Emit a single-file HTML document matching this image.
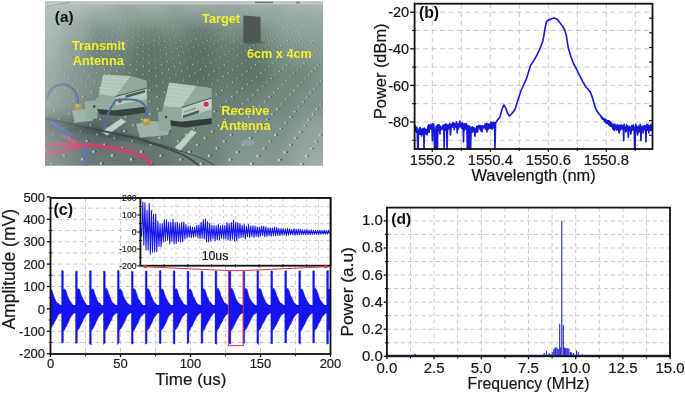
<!DOCTYPE html>
<html><head><meta charset="utf-8"><title>Figure</title>
<style>html,body{margin:0;padding:0;background:#fff;overflow:hidden}svg{display:block}</style>
</head><body>
<svg width="685" height="393" viewBox="0 0 685 393" font-family='"Liberation Sans", Arial, sans-serif'>
<defs>
<filter id="blur1" x="-20%" y="-20%" width="140%" height="140%"><feGaussianBlur stdDeviation="1"/></filter>
<filter id="blur3" x="-50%" y="-50%" width="200%" height="200%"><feGaussianBlur stdDeviation="6"/></filter>
<filter id="blur05"><feGaussianBlur stdDeviation="0.6"/></filter>
<clipPath id="photoclip"><rect x="45" y="1.5" width="278" height="164"/></clipPath>
</defs>
<rect width="685" height="393" fill="#fff"/>
<defs>
<filter id="pblur" x="-5%" y="-5%" width="110%" height="110%"><feGaussianBlur stdDeviation="4"/></filter>
</defs>
<g clip-path="url(#photoclip)">
<rect x="45" y="1.6" width="277.8" height="164.0" fill="#5f756a"/>
<g filter="url(#pblur)">
<rect x="38" y="-6" width="8" height="8" fill="#b4c0bb"/>
<rect x="46" y="-6" width="8" height="8" fill="#b4c0bb"/>
<rect x="54" y="-6" width="8" height="8" fill="#b0bdb7"/>
<rect x="62" y="-6" width="8" height="8" fill="#adbab4"/>
<rect x="70" y="-6" width="8" height="8" fill="#adbab4"/>
<rect x="78" y="-6" width="8" height="8" fill="#abb8b2"/>
<rect x="86" y="-6" width="8" height="8" fill="#a7b5af"/>
<rect x="94" y="-6" width="8" height="8" fill="#a7b5af"/>
<rect x="102" y="-6" width="8" height="8" fill="#a6b4ae"/>
<rect x="110" y="-6" width="8" height="8" fill="#a1b0a9"/>
<rect x="118" y="-6" width="8" height="8" fill="#9baba4"/>
<rect x="126" y="-6" width="8" height="8" fill="#9aaaa3"/>
<rect x="134" y="-6" width="8" height="8" fill="#9dada6"/>
<rect x="142" y="-6" width="8" height="8" fill="#a1b0a9"/>
<rect x="150" y="-6" width="8" height="8" fill="#a0b0a9"/>
<rect x="158" y="-6" width="8" height="8" fill="#9caca5"/>
<rect x="166" y="-6" width="8" height="8" fill="#96a79f"/>
<rect x="174" y="-6" width="8" height="8" fill="#94a59d"/>
<rect x="182" y="-6" width="8" height="8" fill="#98a8a0"/>
<rect x="190" y="-6" width="8" height="8" fill="#9caca5"/>
<rect x="198" y="-6" width="8" height="8" fill="#9dada6"/>
<rect x="206" y="-6" width="8" height="8" fill="#9aaaa2"/>
<rect x="214" y="-6" width="8" height="8" fill="#95a69e"/>
<rect x="222" y="-6" width="8" height="8" fill="#95a69e"/>
<rect x="230" y="-6" width="8" height="8" fill="#96a79f"/>
<rect x="238" y="-6" width="8" height="8" fill="#98a9a1"/>
<rect x="246" y="-6" width="8" height="8" fill="#9dada6"/>
<rect x="254" y="-6" width="8" height="8" fill="#9eafa7"/>
<rect x="262" y="-6" width="8" height="8" fill="#9cada5"/>
<rect x="270" y="-6" width="8" height="8" fill="#9aaba4"/>
<rect x="278" y="-6" width="8" height="8" fill="#9dada6"/>
<rect x="286" y="-6" width="8" height="8" fill="#a1b1ab"/>
<rect x="294" y="-6" width="8" height="8" fill="#a4b3ad"/>
<rect x="302" y="-6" width="8" height="8" fill="#a4b3ad"/>
<rect x="310" y="-6" width="8" height="8" fill="#a5b4ad"/>
<rect x="318" y="-6" width="8" height="8" fill="#a6b5ae"/>
<rect x="326" y="-6" width="8" height="8" fill="#a4b3ad"/>
<rect x="38" y="2" width="8" height="8" fill="#b6c2bd"/>
<rect x="46" y="2" width="8" height="8" fill="#b6c2bd"/>
<rect x="54" y="2" width="8" height="8" fill="#b2bfb9"/>
<rect x="62" y="2" width="8" height="8" fill="#aebbb5"/>
<rect x="70" y="2" width="8" height="8" fill="#afbcb6"/>
<rect x="78" y="2" width="8" height="8" fill="#aebbb5"/>
<rect x="86" y="2" width="8" height="8" fill="#a7b6af"/>
<rect x="94" y="2" width="8" height="8" fill="#aab8b2"/>
<rect x="102" y="2" width="8" height="8" fill="#a9b7b1"/>
<rect x="110" y="2" width="8" height="8" fill="#a1b1aa"/>
<rect x="118" y="2" width="8" height="8" fill="#9aaaa3"/>
<rect x="126" y="2" width="8" height="8" fill="#98a9a1"/>
<rect x="134" y="2" width="8" height="8" fill="#9eaea6"/>
<rect x="142" y="2" width="8" height="8" fill="#a4b4ac"/>
<rect x="150" y="2" width="8" height="8" fill="#a4b3ac"/>
<rect x="158" y="2" width="8" height="8" fill="#9dada6"/>
<rect x="166" y="2" width="8" height="8" fill="#95a69e"/>
<rect x="174" y="2" width="8" height="8" fill="#92a39b"/>
<rect x="182" y="2" width="8" height="8" fill="#98a8a0"/>
<rect x="190" y="2" width="8" height="8" fill="#a0afa8"/>
<rect x="198" y="2" width="8" height="8" fill="#a2b1aa"/>
<rect x="206" y="2" width="8" height="8" fill="#9caca4"/>
<rect x="214" y="2" width="8" height="8" fill="#95a69e"/>
<rect x="222" y="2" width="8" height="8" fill="#96a79f"/>
<rect x="230" y="2" width="8" height="8" fill="#96a79f"/>
<rect x="238" y="2" width="8" height="8" fill="#97a8a0"/>
<rect x="246" y="2" width="8" height="8" fill="#a1b1aa"/>
<rect x="254" y="2" width="8" height="8" fill="#a2b2ab"/>
<rect x="262" y="2" width="8" height="8" fill="#9eaea7"/>
<rect x="270" y="2" width="8" height="8" fill="#9aaba3"/>
<rect x="278" y="2" width="8" height="8" fill="#9dada6"/>
<rect x="286" y="2" width="8" height="8" fill="#a3b3ac"/>
<rect x="294" y="2" width="8" height="8" fill="#a7b6b0"/>
<rect x="302" y="2" width="8" height="8" fill="#a6b5af"/>
<rect x="310" y="2" width="8" height="8" fill="#a7b5af"/>
<rect x="318" y="2" width="8" height="8" fill="#a9b7b1"/>
<rect x="326" y="2" width="8" height="8" fill="#a6b5ae"/>
<rect x="38" y="10" width="8" height="8" fill="#b3bfba"/>
<rect x="46" y="10" width="8" height="8" fill="#b3bfba"/>
<rect x="54" y="10" width="8" height="8" fill="#adbbb5"/>
<rect x="62" y="10" width="8" height="8" fill="#aab7b1"/>
<rect x="70" y="10" width="8" height="8" fill="#abb9b3"/>
<rect x="78" y="10" width="8" height="8" fill="#a6b4ae"/>
<rect x="86" y="10" width="8" height="8" fill="#9dada6"/>
<rect x="94" y="10" width="8" height="8" fill="#99a9a1"/>
<rect x="102" y="10" width="8" height="8" fill="#9aaba3"/>
<rect x="110" y="10" width="8" height="8" fill="#9aaaa2"/>
<rect x="118" y="10" width="8" height="8" fill="#95a59e"/>
<rect x="126" y="10" width="8" height="8" fill="#92a39b"/>
<rect x="134" y="10" width="8" height="8" fill="#93a59d"/>
<rect x="142" y="10" width="8" height="8" fill="#92a49b"/>
<rect x="150" y="10" width="8" height="8" fill="#92a49b"/>
<rect x="158" y="10" width="8" height="8" fill="#93a49c"/>
<rect x="166" y="10" width="8" height="8" fill="#8ea097"/>
<rect x="174" y="10" width="8" height="8" fill="#8b9d95"/>
<rect x="182" y="10" width="8" height="8" fill="#8d9f96"/>
<rect x="190" y="10" width="8" height="8" fill="#8c9f96"/>
<rect x="198" y="10" width="8" height="8" fill="#8a9d94"/>
<rect x="206" y="10" width="8" height="8" fill="#8ea097"/>
<rect x="214" y="10" width="8" height="8" fill="#8fa098"/>
<rect x="222" y="10" width="8" height="8" fill="#93a49c"/>
<rect x="230" y="10" width="8" height="8" fill="#94a59d"/>
<rect x="238" y="10" width="8" height="8" fill="#91a39b"/>
<rect x="246" y="10" width="8" height="8" fill="#90a29a"/>
<rect x="254" y="10" width="8" height="8" fill="#96a7a0"/>
<rect x="262" y="10" width="8" height="8" fill="#96a8a0"/>
<rect x="270" y="10" width="8" height="8" fill="#95a79f"/>
<rect x="278" y="10" width="8" height="8" fill="#98aaa2"/>
<rect x="286" y="10" width="8" height="8" fill="#9baca5"/>
<rect x="294" y="10" width="8" height="8" fill="#99aba3"/>
<rect x="302" y="10" width="8" height="8" fill="#9baca5"/>
<rect x="310" y="10" width="8" height="8" fill="#9dada6"/>
<rect x="318" y="10" width="8" height="8" fill="#9baca4"/>
<rect x="326" y="10" width="8" height="8" fill="#9daea6"/>
<rect x="38" y="18" width="8" height="8" fill="#a8b6b0"/>
<rect x="46" y="18" width="8" height="8" fill="#a8b6b0"/>
<rect x="54" y="18" width="8" height="8" fill="#a3b2ac"/>
<rect x="62" y="18" width="8" height="8" fill="#9baba4"/>
<rect x="70" y="18" width="8" height="8" fill="#97a8a1"/>
<rect x="78" y="18" width="8" height="8" fill="#96a69f"/>
<rect x="86" y="18" width="8" height="8" fill="#92a39c"/>
<rect x="94" y="18" width="8" height="8" fill="#93a49c"/>
<rect x="102" y="18" width="8" height="8" fill="#91a39b"/>
<rect x="110" y="18" width="8" height="8" fill="#8fa199"/>
<rect x="118" y="18" width="8" height="8" fill="#8c9e96"/>
<rect x="126" y="18" width="8" height="8" fill="#889b92"/>
<rect x="134" y="18" width="8" height="8" fill="#869990"/>
<rect x="142" y="18" width="8" height="8" fill="#889c93"/>
<rect x="150" y="18" width="8" height="8" fill="#889c92"/>
<rect x="158" y="18" width="8" height="8" fill="#85998f"/>
<rect x="166" y="18" width="8" height="8" fill="#84978e"/>
<rect x="174" y="18" width="8" height="8" fill="#81948b"/>
<rect x="182" y="18" width="8" height="8" fill="#7f9289"/>
<rect x="190" y="18" width="8" height="8" fill="#80938a"/>
<rect x="198" y="18" width="8" height="8" fill="#82958c"/>
<rect x="206" y="18" width="8" height="8" fill="#7f9289"/>
<rect x="214" y="18" width="8" height="8" fill="#83958c"/>
<rect x="222" y="18" width="8" height="8" fill="#879a91"/>
<rect x="230" y="18" width="8" height="8" fill="#889b92"/>
<rect x="238" y="18" width="8" height="8" fill="#879a92"/>
<rect x="246" y="18" width="8" height="8" fill="#8a9d94"/>
<rect x="254" y="18" width="8" height="8" fill="#889b92"/>
<rect x="262" y="18" width="8" height="8" fill="#8a9d94"/>
<rect x="270" y="18" width="8" height="8" fill="#8ea198"/>
<rect x="278" y="18" width="8" height="8" fill="#93a59d"/>
<rect x="286" y="18" width="8" height="8" fill="#95a7a0"/>
<rect x="294" y="18" width="8" height="8" fill="#96a9a1"/>
<rect x="302" y="18" width="8" height="8" fill="#96a8a0"/>
<rect x="310" y="18" width="8" height="8" fill="#97a9a1"/>
<rect x="318" y="18" width="8" height="8" fill="#98aaa2"/>
<rect x="326" y="18" width="8" height="8" fill="#98a9a1"/>
<rect x="38" y="26" width="8" height="8" fill="#a8b6b0"/>
<rect x="46" y="26" width="8" height="8" fill="#a8b6b0"/>
<rect x="54" y="26" width="8" height="8" fill="#a2b1ab"/>
<rect x="62" y="26" width="8" height="8" fill="#96a69f"/>
<rect x="70" y="26" width="8" height="8" fill="#94a59e"/>
<rect x="78" y="26" width="8" height="8" fill="#93a49d"/>
<rect x="86" y="26" width="8" height="8" fill="#869890"/>
<rect x="94" y="26" width="8" height="8" fill="#7e9189"/>
<rect x="102" y="26" width="8" height="8" fill="#7f928a"/>
<rect x="110" y="26" width="8" height="8" fill="#84968e"/>
<rect x="118" y="26" width="8" height="8" fill="#84978e"/>
<rect x="126" y="26" width="8" height="8" fill="#7f9289"/>
<rect x="134" y="26" width="8" height="8" fill="#768a81"/>
<rect x="142" y="26" width="8" height="8" fill="#6f847a"/>
<rect x="150" y="26" width="8" height="8" fill="#6f847a"/>
<rect x="158" y="26" width="8" height="8" fill="#758a80"/>
<rect x="166" y="26" width="8" height="8" fill="#798d83"/>
<rect x="174" y="26" width="8" height="8" fill="#778b81"/>
<rect x="182" y="26" width="8" height="8" fill="#70837a"/>
<rect x="190" y="26" width="8" height="8" fill="#677b71"/>
<rect x="198" y="26" width="8" height="8" fill="#65796f"/>
<rect x="206" y="26" width="8" height="8" fill="#6b7f75"/>
<rect x="214" y="26" width="8" height="8" fill="#768980"/>
<rect x="222" y="26" width="8" height="8" fill="#7c8f86"/>
<rect x="230" y="26" width="8" height="8" fill="#7b8f85"/>
<rect x="238" y="26" width="8" height="8" fill="#758a7f"/>
<rect x="246" y="26" width="8" height="8" fill="#72887d"/>
<rect x="254" y="26" width="8" height="8" fill="#758a80"/>
<rect x="262" y="26" width="8" height="8" fill="#7e9288"/>
<rect x="270" y="26" width="8" height="8" fill="#879a91"/>
<rect x="278" y="26" width="8" height="8" fill="#8da098"/>
<rect x="286" y="26" width="8" height="8" fill="#8fa29a"/>
<rect x="294" y="26" width="8" height="8" fill="#8ea29a"/>
<rect x="302" y="26" width="8" height="8" fill="#8fa29a"/>
<rect x="310" y="26" width="8" height="8" fill="#91a49c"/>
<rect x="318" y="26" width="8" height="8" fill="#91a49c"/>
<rect x="326" y="26" width="8" height="8" fill="#92a49c"/>
<rect x="38" y="34" width="8" height="8" fill="#a4b3ac"/>
<rect x="46" y="34" width="8" height="8" fill="#a4b2ac"/>
<rect x="54" y="34" width="8" height="8" fill="#9caca5"/>
<rect x="62" y="34" width="8" height="8" fill="#94a49d"/>
<rect x="70" y="34" width="8" height="8" fill="#91a29b"/>
<rect x="78" y="34" width="8" height="8" fill="#8e9f98"/>
<rect x="86" y="34" width="8" height="8" fill="#84968f"/>
<rect x="94" y="34" width="8" height="8" fill="#7f928a"/>
<rect x="102" y="34" width="8" height="8" fill="#7e9189"/>
<rect x="110" y="34" width="8" height="8" fill="#7f9189"/>
<rect x="118" y="34" width="8" height="8" fill="#7d9087"/>
<rect x="126" y="34" width="8" height="8" fill="#788b82"/>
<rect x="134" y="34" width="8" height="8" fill="#72867c"/>
<rect x="142" y="34" width="8" height="8" fill="#6f847a"/>
<rect x="150" y="34" width="8" height="8" fill="#6f847a"/>
<rect x="158" y="34" width="8" height="8" fill="#70857b"/>
<rect x="166" y="34" width="8" height="8" fill="#72867c"/>
<rect x="174" y="34" width="8" height="8" fill="#70847a"/>
<rect x="182" y="34" width="8" height="8" fill="#6b7f75"/>
<rect x="190" y="34" width="8" height="8" fill="#677b71"/>
<rect x="198" y="34" width="8" height="8" fill="#677b71"/>
<rect x="206" y="34" width="8" height="8" fill="#697d73"/>
<rect x="214" y="34" width="8" height="8" fill="#6f8379"/>
<rect x="222" y="34" width="8" height="8" fill="#73877d"/>
<rect x="230" y="34" width="8" height="8" fill="#73887e"/>
<rect x="238" y="34" width="8" height="8" fill="#72877d"/>
<rect x="246" y="34" width="8" height="8" fill="#72877c"/>
<rect x="254" y="34" width="8" height="8" fill="#73887d"/>
<rect x="262" y="34" width="8" height="8" fill="#788d82"/>
<rect x="270" y="34" width="8" height="8" fill="#80948b"/>
<rect x="278" y="34" width="8" height="8" fill="#879b92"/>
<rect x="286" y="34" width="8" height="8" fill="#8b9f96"/>
<rect x="294" y="34" width="8" height="8" fill="#8ca098"/>
<rect x="302" y="34" width="8" height="8" fill="#8ca098"/>
<rect x="310" y="34" width="8" height="8" fill="#8ea199"/>
<rect x="318" y="34" width="8" height="8" fill="#8fa29a"/>
<rect x="326" y="34" width="8" height="8" fill="#8fa299"/>
<rect x="38" y="42" width="8" height="8" fill="#9caca6"/>
<rect x="46" y="42" width="8" height="8" fill="#9baba5"/>
<rect x="54" y="42" width="8" height="8" fill="#96a6a0"/>
<rect x="62" y="42" width="8" height="8" fill="#8a9b94"/>
<rect x="70" y="42" width="8" height="8" fill="#859790"/>
<rect x="78" y="42" width="8" height="8" fill="#84968f"/>
<rect x="86" y="42" width="8" height="8" fill="#798c84"/>
<rect x="94" y="42" width="8" height="8" fill="#70847b"/>
<rect x="102" y="42" width="8" height="8" fill="#71847b"/>
<rect x="110" y="42" width="8" height="8" fill="#758880"/>
<rect x="118" y="42" width="8" height="8" fill="#768980"/>
<rect x="126" y="42" width="8" height="8" fill="#70847a"/>
<rect x="134" y="42" width="8" height="8" fill="#667c70"/>
<rect x="142" y="42" width="8" height="8" fill="#60766a"/>
<rect x="150" y="42" width="8" height="8" fill="#60766a"/>
<rect x="158" y="42" width="8" height="8" fill="#657a6f"/>
<rect x="166" y="42" width="8" height="8" fill="#6a7e74"/>
<rect x="174" y="42" width="8" height="8" fill="#697d73"/>
<rect x="182" y="42" width="8" height="8" fill="#63786d"/>
<rect x="190" y="42" width="8" height="8" fill="#5d7367"/>
<rect x="198" y="42" width="8" height="8" fill="#5c7266"/>
<rect x="206" y="42" width="8" height="8" fill="#5f756a"/>
<rect x="214" y="42" width="8" height="8" fill="#677c71"/>
<rect x="222" y="42" width="8" height="8" fill="#6b8075"/>
<rect x="230" y="42" width="8" height="8" fill="#687e73"/>
<rect x="238" y="42" width="8" height="8" fill="#62786c"/>
<rect x="246" y="42" width="8" height="8" fill="#5f7569"/>
<rect x="254" y="42" width="8" height="8" fill="#63796d"/>
<rect x="262" y="42" width="8" height="8" fill="#6d8277"/>
<rect x="270" y="42" width="8" height="8" fill="#798e84"/>
<rect x="278" y="42" width="8" height="8" fill="#80958b"/>
<rect x="286" y="42" width="8" height="8" fill="#81978d"/>
<rect x="294" y="42" width="8" height="8" fill="#80978c"/>
<rect x="302" y="42" width="8" height="8" fill="#82988d"/>
<rect x="310" y="42" width="8" height="8" fill="#859a90"/>
<rect x="318" y="42" width="8" height="8" fill="#869a90"/>
<rect x="326" y="42" width="8" height="8" fill="#879b91"/>
<rect x="38" y="50" width="8" height="8" fill="#9caca6"/>
<rect x="46" y="50" width="8" height="8" fill="#9caca6"/>
<rect x="54" y="50" width="8" height="8" fill="#96a6a0"/>
<rect x="62" y="50" width="8" height="8" fill="#869891"/>
<rect x="70" y="50" width="8" height="8" fill="#84968f"/>
<rect x="78" y="50" width="8" height="8" fill="#83958e"/>
<rect x="86" y="50" width="8" height="8" fill="#74887f"/>
<rect x="94" y="50" width="8" height="8" fill="#6d8178"/>
<rect x="102" y="50" width="8" height="8" fill="#6e8279"/>
<rect x="110" y="50" width="8" height="8" fill="#71857c"/>
<rect x="118" y="50" width="8" height="8" fill="#71857c"/>
<rect x="126" y="50" width="8" height="8" fill="#6a7f75"/>
<rect x="134" y="50" width="8" height="8" fill="#62776c"/>
<rect x="142" y="50" width="8" height="8" fill="#5e7468"/>
<rect x="150" y="50" width="8" height="8" fill="#5e7468"/>
<rect x="158" y="50" width="8" height="8" fill="#61776b"/>
<rect x="166" y="50" width="8" height="8" fill="#657a6f"/>
<rect x="174" y="50" width="8" height="8" fill="#64796e"/>
<rect x="182" y="50" width="8" height="8" fill="#5f7469"/>
<rect x="190" y="50" width="8" height="8" fill="#5b7065"/>
<rect x="198" y="50" width="8" height="8" fill="#5a7064"/>
<rect x="206" y="50" width="8" height="8" fill="#5c7266"/>
<rect x="214" y="50" width="8" height="8" fill="#62786c"/>
<rect x="222" y="50" width="8" height="8" fill="#667b70"/>
<rect x="230" y="50" width="8" height="8" fill="#63796d"/>
<rect x="238" y="50" width="8" height="8" fill="#5e7468"/>
<rect x="246" y="50" width="8" height="8" fill="#5d7367"/>
<rect x="254" y="50" width="8" height="8" fill="#5f7569"/>
<rect x="262" y="50" width="8" height="8" fill="#677d72"/>
<rect x="270" y="50" width="8" height="8" fill="#74897f"/>
<rect x="278" y="50" width="8" height="8" fill="#7c9288"/>
<rect x="286" y="50" width="8" height="8" fill="#7f968b"/>
<rect x="294" y="50" width="8" height="8" fill="#7f968b"/>
<rect x="302" y="50" width="8" height="8" fill="#7f968b"/>
<rect x="310" y="50" width="8" height="8" fill="#84998f"/>
<rect x="318" y="50" width="8" height="8" fill="#85998f"/>
<rect x="326" y="50" width="8" height="8" fill="#85998f"/>
<rect x="38" y="58" width="8" height="8" fill="#95a69f"/>
<rect x="46" y="58" width="8" height="8" fill="#95a59f"/>
<rect x="54" y="58" width="8" height="8" fill="#8f9f99"/>
<rect x="62" y="58" width="8" height="8" fill="#879891"/>
<rect x="70" y="58" width="8" height="8" fill="#83958e"/>
<rect x="78" y="58" width="8" height="8" fill="#81928b"/>
<rect x="86" y="58" width="8" height="8" fill="#798c84"/>
<rect x="94" y="58" width="8" height="8" fill="#72867d"/>
<rect x="102" y="58" width="8" height="8" fill="#71857c"/>
<rect x="110" y="58" width="8" height="8" fill="#72867d"/>
<rect x="118" y="58" width="8" height="8" fill="#70837a"/>
<rect x="126" y="58" width="8" height="8" fill="#697e73"/>
<rect x="134" y="58" width="8" height="8" fill="#63786d"/>
<rect x="142" y="58" width="8" height="8" fill="#60766a"/>
<rect x="150" y="58" width="8" height="8" fill="#5f756a"/>
<rect x="158" y="58" width="8" height="8" fill="#61776b"/>
<rect x="166" y="58" width="8" height="8" fill="#63796d"/>
<rect x="174" y="58" width="8" height="8" fill="#62786d"/>
<rect x="182" y="58" width="8" height="8" fill="#5f7569"/>
<rect x="190" y="58" width="8" height="8" fill="#5c7367"/>
<rect x="198" y="58" width="8" height="8" fill="#5c7266"/>
<rect x="206" y="58" width="8" height="8" fill="#5d7468"/>
<rect x="214" y="58" width="8" height="8" fill="#61776c"/>
<rect x="222" y="58" width="8" height="8" fill="#647a6e"/>
<rect x="230" y="58" width="8" height="8" fill="#63796d"/>
<rect x="238" y="58" width="8" height="8" fill="#60776b"/>
<rect x="246" y="58" width="8" height="8" fill="#60766a"/>
<rect x="254" y="58" width="8" height="8" fill="#62786c"/>
<rect x="262" y="58" width="8" height="8" fill="#687e72"/>
<rect x="270" y="58" width="8" height="8" fill="#71877c"/>
<rect x="278" y="58" width="8" height="8" fill="#778e83"/>
<rect x="286" y="58" width="8" height="8" fill="#7a9186"/>
<rect x="294" y="58" width="8" height="8" fill="#7b9287"/>
<rect x="302" y="58" width="8" height="8" fill="#7d9388"/>
<rect x="310" y="58" width="8" height="8" fill="#80958b"/>
<rect x="318" y="58" width="8" height="8" fill="#82978c"/>
<rect x="326" y="58" width="8" height="8" fill="#82978d"/>
<rect x="38" y="66" width="8" height="8" fill="#8e9e98"/>
<rect x="46" y="66" width="8" height="8" fill="#8e9e98"/>
<rect x="54" y="66" width="8" height="8" fill="#8a9b94"/>
<rect x="62" y="66" width="8" height="8" fill="#81928b"/>
<rect x="70" y="66" width="8" height="8" fill="#7e8f88"/>
<rect x="78" y="66" width="8" height="8" fill="#7e8f88"/>
<rect x="86" y="66" width="8" height="8" fill="#7d8f87"/>
<rect x="94" y="66" width="8" height="8" fill="#7a8c84"/>
<rect x="102" y="66" width="8" height="8" fill="#768981"/>
<rect x="110" y="66" width="8" height="8" fill="#73867e"/>
<rect x="118" y="66" width="8" height="8" fill="#6e8278"/>
<rect x="126" y="66" width="8" height="8" fill="#657b70"/>
<rect x="134" y="66" width="8" height="8" fill="#5f7569"/>
<rect x="142" y="66" width="8" height="8" fill="#5c7367"/>
<rect x="150" y="66" width="8" height="8" fill="#5c7267"/>
<rect x="158" y="66" width="8" height="8" fill="#5e7468"/>
<rect x="166" y="66" width="8" height="8" fill="#61776b"/>
<rect x="174" y="66" width="8" height="8" fill="#60766b"/>
<rect x="182" y="66" width="8" height="8" fill="#5c7367"/>
<rect x="190" y="66" width="8" height="8" fill="#597165"/>
<rect x="198" y="66" width="8" height="8" fill="#587064"/>
<rect x="206" y="66" width="8" height="8" fill="#5a7266"/>
<rect x="214" y="66" width="8" height="8" fill="#5f766a"/>
<rect x="222" y="66" width="8" height="8" fill="#62796d"/>
<rect x="230" y="66" width="8" height="8" fill="#61776c"/>
<rect x="238" y="66" width="8" height="8" fill="#5e7468"/>
<rect x="246" y="66" width="8" height="8" fill="#5c7367"/>
<rect x="254" y="66" width="8" height="8" fill="#5e7569"/>
<rect x="262" y="66" width="8" height="8" fill="#657b70"/>
<rect x="270" y="66" width="8" height="8" fill="#6e8479"/>
<rect x="278" y="66" width="8" height="8" fill="#72897e"/>
<rect x="286" y="66" width="8" height="8" fill="#71887d"/>
<rect x="294" y="66" width="8" height="8" fill="#6f877b"/>
<rect x="302" y="66" width="8" height="8" fill="#71897d"/>
<rect x="310" y="66" width="8" height="8" fill="#7b9187"/>
<rect x="318" y="66" width="8" height="8" fill="#7d9389"/>
<rect x="326" y="66" width="8" height="8" fill="#7d9389"/>
<rect x="38" y="74" width="8" height="8" fill="#8e9e98"/>
<rect x="46" y="74" width="8" height="8" fill="#8e9e98"/>
<rect x="54" y="74" width="8" height="8" fill="#8a9a94"/>
<rect x="62" y="74" width="8" height="8" fill="#80918a"/>
<rect x="70" y="74" width="8" height="8" fill="#7e8f88"/>
<rect x="78" y="74" width="8" height="8" fill="#7e8f88"/>
<rect x="86" y="74" width="8" height="8" fill="#7e8f88"/>
<rect x="94" y="74" width="8" height="8" fill="#7b8d85"/>
<rect x="102" y="74" width="8" height="8" fill="#788a82"/>
<rect x="110" y="74" width="8" height="8" fill="#73867d"/>
<rect x="118" y="74" width="8" height="8" fill="#6c8077"/>
<rect x="126" y="74" width="8" height="8" fill="#64796f"/>
<rect x="134" y="74" width="8" height="8" fill="#5d7468"/>
<rect x="142" y="74" width="8" height="8" fill="#5b7266"/>
<rect x="150" y="74" width="8" height="8" fill="#5b7266"/>
<rect x="158" y="74" width="8" height="8" fill="#5d7368"/>
<rect x="166" y="74" width="8" height="8" fill="#60766b"/>
<rect x="174" y="74" width="8" height="8" fill="#5f766b"/>
<rect x="182" y="74" width="8" height="8" fill="#5b7367"/>
<rect x="190" y="74" width="8" height="8" fill="#587064"/>
<rect x="198" y="74" width="8" height="8" fill="#587064"/>
<rect x="206" y="74" width="8" height="8" fill="#5a7166"/>
<rect x="214" y="74" width="8" height="8" fill="#5f766a"/>
<rect x="222" y="74" width="8" height="8" fill="#63796e"/>
<rect x="230" y="74" width="8" height="8" fill="#61776c"/>
<rect x="238" y="74" width="8" height="8" fill="#5d7468"/>
<rect x="246" y="74" width="8" height="8" fill="#5c7367"/>
<rect x="254" y="74" width="8" height="8" fill="#5d7468"/>
<rect x="262" y="74" width="8" height="8" fill="#647a6f"/>
<rect x="270" y="74" width="8" height="8" fill="#6d8378"/>
<rect x="278" y="74" width="8" height="8" fill="#71887c"/>
<rect x="286" y="74" width="8" height="8" fill="#70877b"/>
<rect x="294" y="74" width="8" height="8" fill="#6e867a"/>
<rect x="302" y="74" width="8" height="8" fill="#70877c"/>
<rect x="310" y="74" width="8" height="8" fill="#7b9187"/>
<rect x="318" y="74" width="8" height="8" fill="#7d9389"/>
<rect x="326" y="74" width="8" height="8" fill="#7d9389"/>
<rect x="38" y="82" width="8" height="8" fill="#899993"/>
<rect x="46" y="82" width="8" height="8" fill="#899992"/>
<rect x="54" y="82" width="8" height="8" fill="#85958e"/>
<rect x="62" y="82" width="8" height="8" fill="#80918a"/>
<rect x="70" y="82" width="8" height="8" fill="#7e8f88"/>
<rect x="78" y="82" width="8" height="8" fill="#7e8e88"/>
<rect x="86" y="82" width="8" height="8" fill="#7c8d86"/>
<rect x="94" y="82" width="8" height="8" fill="#7a8b84"/>
<rect x="102" y="82" width="8" height="8" fill="#778881"/>
<rect x="110" y="82" width="8" height="8" fill="#72857d"/>
<rect x="118" y="82" width="8" height="8" fill="#6d8077"/>
<rect x="126" y="82" width="8" height="8" fill="#667b71"/>
<rect x="134" y="82" width="8" height="8" fill="#61776c"/>
<rect x="142" y="82" width="8" height="8" fill="#5e7469"/>
<rect x="150" y="82" width="8" height="8" fill="#5e7469"/>
<rect x="158" y="82" width="8" height="8" fill="#5f766a"/>
<rect x="166" y="82" width="8" height="8" fill="#62786d"/>
<rect x="174" y="82" width="8" height="8" fill="#61776c"/>
<rect x="182" y="82" width="8" height="8" fill="#5e756a"/>
<rect x="190" y="82" width="8" height="8" fill="#5c7368"/>
<rect x="198" y="82" width="8" height="8" fill="#5c7367"/>
<rect x="206" y="82" width="8" height="8" fill="#5f766a"/>
<rect x="214" y="82" width="8" height="8" fill="#647a6f"/>
<rect x="222" y="82" width="8" height="8" fill="#677d72"/>
<rect x="230" y="82" width="8" height="8" fill="#667c71"/>
<rect x="238" y="82" width="8" height="8" fill="#63796e"/>
<rect x="246" y="82" width="8" height="8" fill="#61776c"/>
<rect x="254" y="82" width="8" height="8" fill="#647a6f"/>
<rect x="262" y="82" width="8" height="8" fill="#6b8076"/>
<rect x="270" y="82" width="8" height="8" fill="#70867b"/>
<rect x="278" y="82" width="8" height="8" fill="#72887e"/>
<rect x="286" y="82" width="8" height="8" fill="#72897e"/>
<rect x="294" y="82" width="8" height="8" fill="#72897e"/>
<rect x="302" y="82" width="8" height="8" fill="#758c81"/>
<rect x="310" y="82" width="8" height="8" fill="#7b9086"/>
<rect x="318" y="82" width="8" height="8" fill="#7d9288"/>
<rect x="326" y="82" width="8" height="8" fill="#7e9289"/>
<rect x="38" y="90" width="8" height="8" fill="#86968f"/>
<rect x="46" y="90" width="8" height="8" fill="#86968e"/>
<rect x="54" y="90" width="8" height="8" fill="#81928b"/>
<rect x="62" y="90" width="8" height="8" fill="#7d8d87"/>
<rect x="70" y="90" width="8" height="8" fill="#7c8d86"/>
<rect x="78" y="90" width="8" height="8" fill="#7c8c86"/>
<rect x="86" y="90" width="8" height="8" fill="#7a8a84"/>
<rect x="94" y="90" width="8" height="8" fill="#778881"/>
<rect x="102" y="90" width="8" height="8" fill="#74857f"/>
<rect x="110" y="90" width="8" height="8" fill="#71827b"/>
<rect x="118" y="90" width="8" height="8" fill="#6e8078"/>
<rect x="126" y="90" width="8" height="8" fill="#6a7d74"/>
<rect x="134" y="90" width="8" height="8" fill="#667b71"/>
<rect x="142" y="90" width="8" height="8" fill="#64796f"/>
<rect x="150" y="90" width="8" height="8" fill="#64796e"/>
<rect x="158" y="90" width="8" height="8" fill="#64796f"/>
<rect x="166" y="90" width="8" height="8" fill="#657a70"/>
<rect x="174" y="90" width="8" height="8" fill="#657a70"/>
<rect x="182" y="90" width="8" height="8" fill="#647a6f"/>
<rect x="190" y="90" width="8" height="8" fill="#63796e"/>
<rect x="198" y="90" width="8" height="8" fill="#647a6f"/>
<rect x="206" y="90" width="8" height="8" fill="#677c72"/>
<rect x="214" y="90" width="8" height="8" fill="#697e74"/>
<rect x="222" y="90" width="8" height="8" fill="#6a7f75"/>
<rect x="230" y="90" width="8" height="8" fill="#6a7f75"/>
<rect x="238" y="90" width="8" height="8" fill="#6a7f75"/>
<rect x="246" y="90" width="8" height="8" fill="#6a7f75"/>
<rect x="254" y="90" width="8" height="8" fill="#6d8278"/>
<rect x="262" y="90" width="8" height="8" fill="#71867c"/>
<rect x="270" y="90" width="8" height="8" fill="#73887e"/>
<rect x="278" y="90" width="8" height="8" fill="#73887e"/>
<rect x="286" y="90" width="8" height="8" fill="#74897f"/>
<rect x="294" y="90" width="8" height="8" fill="#778c82"/>
<rect x="302" y="90" width="8" height="8" fill="#7c8f87"/>
<rect x="310" y="90" width="8" height="8" fill="#7f928a"/>
<rect x="318" y="90" width="8" height="8" fill="#80928b"/>
<rect x="326" y="90" width="8" height="8" fill="#80928b"/>
<rect x="38" y="98" width="8" height="8" fill="#87978f"/>
<rect x="46" y="98" width="8" height="8" fill="#87978f"/>
<rect x="54" y="98" width="8" height="8" fill="#81918a"/>
<rect x="62" y="98" width="8" height="8" fill="#7c8d86"/>
<rect x="70" y="98" width="8" height="8" fill="#7c8d86"/>
<rect x="78" y="98" width="8" height="8" fill="#7a8b84"/>
<rect x="86" y="98" width="8" height="8" fill="#768680"/>
<rect x="94" y="98" width="8" height="8" fill="#72827d"/>
<rect x="102" y="98" width="8" height="8" fill="#707f7a"/>
<rect x="110" y="98" width="8" height="8" fill="#6e7e78"/>
<rect x="118" y="98" width="8" height="8" fill="#6c7d77"/>
<rect x="126" y="98" width="8" height="8" fill="#6b7d75"/>
<rect x="134" y="98" width="8" height="8" fill="#6a7c74"/>
<rect x="142" y="98" width="8" height="8" fill="#697c73"/>
<rect x="150" y="98" width="8" height="8" fill="#687c73"/>
<rect x="158" y="98" width="8" height="8" fill="#687c73"/>
<rect x="166" y="98" width="8" height="8" fill="#697d73"/>
<rect x="174" y="98" width="8" height="8" fill="#697d74"/>
<rect x="182" y="98" width="8" height="8" fill="#697d74"/>
<rect x="190" y="98" width="8" height="8" fill="#697e74"/>
<rect x="198" y="98" width="8" height="8" fill="#6a7e74"/>
<rect x="206" y="98" width="8" height="8" fill="#6a7f75"/>
<rect x="214" y="98" width="8" height="8" fill="#6a7f75"/>
<rect x="222" y="98" width="8" height="8" fill="#6a7f75"/>
<rect x="230" y="98" width="8" height="8" fill="#6a7f75"/>
<rect x="238" y="98" width="8" height="8" fill="#6b8076"/>
<rect x="246" y="98" width="8" height="8" fill="#6d8278"/>
<rect x="254" y="98" width="8" height="8" fill="#71867c"/>
<rect x="262" y="98" width="8" height="8" fill="#73887e"/>
<rect x="270" y="98" width="8" height="8" fill="#73887e"/>
<rect x="278" y="98" width="8" height="8" fill="#73887e"/>
<rect x="286" y="98" width="8" height="8" fill="#74897f"/>
<rect x="294" y="98" width="8" height="8" fill="#788c83"/>
<rect x="302" y="98" width="8" height="8" fill="#7e9189"/>
<rect x="310" y="98" width="8" height="8" fill="#80928b"/>
<rect x="318" y="98" width="8" height="8" fill="#80928b"/>
<rect x="326" y="98" width="8" height="8" fill="#80928b"/>
<rect x="38" y="106" width="8" height="8" fill="#7b8a83"/>
<rect x="46" y="106" width="8" height="8" fill="#7b8a83"/>
<rect x="54" y="106" width="8" height="8" fill="#788781"/>
<rect x="62" y="106" width="8" height="8" fill="#778680"/>
<rect x="70" y="106" width="8" height="8" fill="#758580"/>
<rect x="78" y="106" width="8" height="8" fill="#71807b"/>
<rect x="86" y="106" width="8" height="8" fill="#6c7b77"/>
<rect x="94" y="106" width="8" height="8" fill="#697874"/>
<rect x="102" y="106" width="8" height="8" fill="#687773"/>
<rect x="110" y="106" width="8" height="8" fill="#687773"/>
<rect x="118" y="106" width="8" height="8" fill="#697974"/>
<rect x="126" y="106" width="8" height="8" fill="#6a7a74"/>
<rect x="134" y="106" width="8" height="8" fill="#6a7b74"/>
<rect x="142" y="106" width="8" height="8" fill="#6a7c74"/>
<rect x="150" y="106" width="8" height="8" fill="#6a7c74"/>
<rect x="158" y="106" width="8" height="8" fill="#6a7d74"/>
<rect x="166" y="106" width="8" height="8" fill="#6b7e75"/>
<rect x="174" y="106" width="8" height="8" fill="#6b7f76"/>
<rect x="182" y="106" width="8" height="8" fill="#6c8076"/>
<rect x="190" y="106" width="8" height="8" fill="#6c8077"/>
<rect x="198" y="106" width="8" height="8" fill="#6d8177"/>
<rect x="206" y="106" width="8" height="8" fill="#6c8177"/>
<rect x="214" y="106" width="8" height="8" fill="#6c8077"/>
<rect x="222" y="106" width="8" height="8" fill="#6b8076"/>
<rect x="230" y="106" width="8" height="8" fill="#6c8177"/>
<rect x="238" y="106" width="8" height="8" fill="#6f8379"/>
<rect x="246" y="106" width="8" height="8" fill="#72867d"/>
<rect x="254" y="106" width="8" height="8" fill="#74887f"/>
<rect x="262" y="106" width="8" height="8" fill="#75897f"/>
<rect x="270" y="106" width="8" height="8" fill="#74897f"/>
<rect x="278" y="106" width="8" height="8" fill="#74897f"/>
<rect x="286" y="106" width="8" height="8" fill="#768a81"/>
<rect x="294" y="106" width="8" height="8" fill="#7b8e86"/>
<rect x="302" y="106" width="8" height="8" fill="#80928a"/>
<rect x="310" y="106" width="8" height="8" fill="#81938c"/>
<rect x="318" y="106" width="8" height="8" fill="#81938c"/>
<rect x="326" y="106" width="8" height="8" fill="#82948d"/>
<rect x="38" y="114" width="8" height="8" fill="#5c6763"/>
<rect x="46" y="114" width="8" height="8" fill="#5c6663"/>
<rect x="54" y="114" width="8" height="8" fill="#606c69"/>
<rect x="62" y="114" width="8" height="8" fill="#606c6a"/>
<rect x="70" y="114" width="8" height="8" fill="#5c6867"/>
<rect x="78" y="114" width="8" height="8" fill="#5c6968"/>
<rect x="86" y="114" width="8" height="8" fill="#5f6b6a"/>
<rect x="94" y="114" width="8" height="8" fill="#5f6c6b"/>
<rect x="102" y="114" width="8" height="8" fill="#606d6b"/>
<rect x="110" y="114" width="8" height="8" fill="#62706d"/>
<rect x="118" y="114" width="8" height="8" fill="#657470"/>
<rect x="126" y="114" width="8" height="8" fill="#687873"/>
<rect x="134" y="114" width="8" height="8" fill="#697a73"/>
<rect x="142" y="114" width="8" height="8" fill="#697b73"/>
<rect x="150" y="114" width="8" height="8" fill="#697b73"/>
<rect x="158" y="114" width="8" height="8" fill="#6a7c74"/>
<rect x="166" y="114" width="8" height="8" fill="#6b7e75"/>
<rect x="174" y="114" width="8" height="8" fill="#6c8077"/>
<rect x="182" y="114" width="8" height="8" fill="#6d8178"/>
<rect x="190" y="114" width="8" height="8" fill="#6e8278"/>
<rect x="198" y="114" width="8" height="8" fill="#6e8278"/>
<rect x="206" y="114" width="8" height="8" fill="#6e8279"/>
<rect x="214" y="114" width="8" height="8" fill="#6f837a"/>
<rect x="222" y="114" width="8" height="8" fill="#71857b"/>
<rect x="230" y="114" width="8" height="8" fill="#74887f"/>
<rect x="238" y="114" width="8" height="8" fill="#798b84"/>
<rect x="246" y="114" width="8" height="8" fill="#7b8d86"/>
<rect x="254" y="114" width="8" height="8" fill="#7b8d86"/>
<rect x="262" y="114" width="8" height="8" fill="#798c84"/>
<rect x="270" y="114" width="8" height="8" fill="#788c83"/>
<rect x="278" y="114" width="8" height="8" fill="#798c84"/>
<rect x="286" y="114" width="8" height="8" fill="#7c8f86"/>
<rect x="294" y="114" width="8" height="8" fill="#82948c"/>
<rect x="302" y="114" width="8" height="8" fill="#889992"/>
<rect x="310" y="114" width="8" height="8" fill="#8c9c96"/>
<rect x="318" y="114" width="8" height="8" fill="#8d9d97"/>
<rect x="326" y="114" width="8" height="8" fill="#8c9d96"/>
<rect x="38" y="122" width="8" height="8" fill="#58625f"/>
<rect x="46" y="122" width="8" height="8" fill="#58625f"/>
<rect x="54" y="122" width="8" height="8" fill="#5a6462"/>
<rect x="62" y="122" width="8" height="8" fill="#566162"/>
<rect x="70" y="122" width="8" height="8" fill="#545f60"/>
<rect x="78" y="122" width="8" height="8" fill="#556061"/>
<rect x="86" y="122" width="8" height="8" fill="#5a6666"/>
<rect x="94" y="122" width="8" height="8" fill="#5a6666"/>
<rect x="102" y="122" width="8" height="8" fill="#5b6767"/>
<rect x="110" y="122" width="8" height="8" fill="#5e6a69"/>
<rect x="118" y="122" width="8" height="8" fill="#63716e"/>
<rect x="126" y="122" width="8" height="8" fill="#677872"/>
<rect x="134" y="122" width="8" height="8" fill="#697b73"/>
<rect x="142" y="122" width="8" height="8" fill="#697b73"/>
<rect x="150" y="122" width="8" height="8" fill="#697b73"/>
<rect x="158" y="122" width="8" height="8" fill="#697b73"/>
<rect x="166" y="122" width="8" height="8" fill="#6b7d75"/>
<rect x="174" y="122" width="8" height="8" fill="#6d8077"/>
<rect x="182" y="122" width="8" height="8" fill="#6e8278"/>
<rect x="190" y="122" width="8" height="8" fill="#6e8278"/>
<rect x="198" y="122" width="8" height="8" fill="#6e8278"/>
<rect x="206" y="122" width="8" height="8" fill="#6e8278"/>
<rect x="214" y="122" width="8" height="8" fill="#70847a"/>
<rect x="222" y="122" width="8" height="8" fill="#75887f"/>
<rect x="230" y="122" width="8" height="8" fill="#7a8d85"/>
<rect x="238" y="122" width="8" height="8" fill="#7d9088"/>
<rect x="246" y="122" width="8" height="8" fill="#7e9089"/>
<rect x="254" y="122" width="8" height="8" fill="#7e9089"/>
<rect x="262" y="122" width="8" height="8" fill="#7d8f88"/>
<rect x="270" y="122" width="8" height="8" fill="#7c8f87"/>
<rect x="278" y="122" width="8" height="8" fill="#7e9088"/>
<rect x="286" y="122" width="8" height="8" fill="#82948c"/>
<rect x="294" y="122" width="8" height="8" fill="#899a93"/>
<rect x="302" y="122" width="8" height="8" fill="#8f9f99"/>
<rect x="310" y="122" width="8" height="8" fill="#92a29b"/>
<rect x="318" y="122" width="8" height="8" fill="#93a29c"/>
<rect x="326" y="122" width="8" height="8" fill="#92a19b"/>
<rect x="38" y="130" width="8" height="8" fill="#5b6562"/>
<rect x="46" y="130" width="8" height="8" fill="#5a6562"/>
<rect x="54" y="130" width="8" height="8" fill="#5b6664"/>
<rect x="62" y="130" width="8" height="8" fill="#576263"/>
<rect x="70" y="130" width="8" height="8" fill="#556061"/>
<rect x="78" y="130" width="8" height="8" fill="#576262"/>
<rect x="86" y="130" width="8" height="8" fill="#5a6666"/>
<rect x="94" y="130" width="8" height="8" fill="#5a6666"/>
<rect x="102" y="130" width="8" height="8" fill="#5a6666"/>
<rect x="110" y="130" width="8" height="8" fill="#5d6969"/>
<rect x="118" y="130" width="8" height="8" fill="#62706d"/>
<rect x="126" y="130" width="8" height="8" fill="#677771"/>
<rect x="134" y="130" width="8" height="8" fill="#697a73"/>
<rect x="142" y="130" width="8" height="8" fill="#697b73"/>
<rect x="150" y="130" width="8" height="8" fill="#697b73"/>
<rect x="158" y="130" width="8" height="8" fill="#697b73"/>
<rect x="166" y="130" width="8" height="8" fill="#6b7d75"/>
<rect x="174" y="130" width="8" height="8" fill="#6d8077"/>
<rect x="182" y="130" width="8" height="8" fill="#6e8278"/>
<rect x="190" y="130" width="8" height="8" fill="#6e8278"/>
<rect x="198" y="130" width="8" height="8" fill="#6e8278"/>
<rect x="206" y="130" width="8" height="8" fill="#6e8278"/>
<rect x="214" y="130" width="8" height="8" fill="#71847b"/>
<rect x="222" y="130" width="8" height="8" fill="#768981"/>
<rect x="230" y="130" width="8" height="8" fill="#7c8e86"/>
<rect x="238" y="130" width="8" height="8" fill="#7e9089"/>
<rect x="246" y="130" width="8" height="8" fill="#7e9089"/>
<rect x="254" y="130" width="8" height="8" fill="#7e9089"/>
<rect x="262" y="130" width="8" height="8" fill="#7e9089"/>
<rect x="270" y="130" width="8" height="8" fill="#7f9189"/>
<rect x="278" y="130" width="8" height="8" fill="#81938c"/>
<rect x="286" y="130" width="8" height="8" fill="#869790"/>
<rect x="294" y="130" width="8" height="8" fill="#8c9c96"/>
<rect x="302" y="130" width="8" height="8" fill="#91a09a"/>
<rect x="310" y="130" width="8" height="8" fill="#93a29c"/>
<rect x="318" y="130" width="8" height="8" fill="#93a29c"/>
<rect x="326" y="130" width="8" height="8" fill="#93a29c"/>
<rect x="38" y="138" width="8" height="8" fill="#636e6c"/>
<rect x="46" y="138" width="8" height="8" fill="#636d6c"/>
<rect x="54" y="138" width="8" height="8" fill="#626d6b"/>
<rect x="62" y="138" width="8" height="8" fill="#606b6b"/>
<rect x="70" y="138" width="8" height="8" fill="#5f6a6a"/>
<rect x="78" y="138" width="8" height="8" fill="#5f6a6a"/>
<rect x="86" y="138" width="8" height="8" fill="#5f6b6a"/>
<rect x="94" y="138" width="8" height="8" fill="#5e6a69"/>
<rect x="102" y="138" width="8" height="8" fill="#5e6a6a"/>
<rect x="110" y="138" width="8" height="8" fill="#616e6c"/>
<rect x="118" y="138" width="8" height="8" fill="#64726f"/>
<rect x="126" y="138" width="8" height="8" fill="#677671"/>
<rect x="134" y="138" width="8" height="8" fill="#687972"/>
<rect x="142" y="138" width="8" height="8" fill="#687a73"/>
<rect x="150" y="138" width="8" height="8" fill="#697a73"/>
<rect x="158" y="138" width="8" height="8" fill="#697a73"/>
<rect x="166" y="138" width="8" height="8" fill="#6b7c75"/>
<rect x="174" y="138" width="8" height="8" fill="#6d7f77"/>
<rect x="182" y="138" width="8" height="8" fill="#6e8178"/>
<rect x="190" y="138" width="8" height="8" fill="#6e8279"/>
<rect x="198" y="138" width="8" height="8" fill="#6f8279"/>
<rect x="206" y="138" width="8" height="8" fill="#70837a"/>
<rect x="214" y="138" width="8" height="8" fill="#73857d"/>
<rect x="222" y="138" width="8" height="8" fill="#788a82"/>
<rect x="230" y="138" width="8" height="8" fill="#7c8e87"/>
<rect x="238" y="138" width="8" height="8" fill="#7e9089"/>
<rect x="246" y="138" width="8" height="8" fill="#7f918a"/>
<rect x="254" y="138" width="8" height="8" fill="#7f918a"/>
<rect x="262" y="138" width="8" height="8" fill="#80918a"/>
<rect x="270" y="138" width="8" height="8" fill="#81938c"/>
<rect x="278" y="138" width="8" height="8" fill="#84958e"/>
<rect x="286" y="138" width="8" height="8" fill="#899a93"/>
<rect x="294" y="138" width="8" height="8" fill="#8e9e98"/>
<rect x="302" y="138" width="8" height="8" fill="#92a19b"/>
<rect x="310" y="138" width="8" height="8" fill="#94a39d"/>
<rect x="318" y="138" width="8" height="8" fill="#94a39d"/>
<rect x="326" y="138" width="8" height="8" fill="#94a39d"/>
<rect x="38" y="146" width="8" height="8" fill="#6b7574"/>
<rect x="46" y="146" width="8" height="8" fill="#6b7574"/>
<rect x="54" y="146" width="8" height="8" fill="#697473"/>
<rect x="62" y="146" width="8" height="8" fill="#697373"/>
<rect x="70" y="146" width="8" height="8" fill="#697474"/>
<rect x="78" y="146" width="8" height="8" fill="#697374"/>
<rect x="86" y="146" width="8" height="8" fill="#687474"/>
<rect x="94" y="146" width="8" height="8" fill="#697575"/>
<rect x="102" y="146" width="8" height="8" fill="#697575"/>
<rect x="110" y="146" width="8" height="8" fill="#687473"/>
<rect x="118" y="146" width="8" height="8" fill="#677572"/>
<rect x="126" y="146" width="8" height="8" fill="#677672"/>
<rect x="134" y="146" width="8" height="8" fill="#667671"/>
<rect x="142" y="146" width="8" height="8" fill="#667570"/>
<rect x="150" y="146" width="8" height="8" fill="#667570"/>
<rect x="158" y="146" width="8" height="8" fill="#677771"/>
<rect x="166" y="146" width="8" height="8" fill="#6a7a74"/>
<rect x="174" y="146" width="8" height="8" fill="#6d7e77"/>
<rect x="182" y="146" width="8" height="8" fill="#6e8078"/>
<rect x="190" y="146" width="8" height="8" fill="#6f8179"/>
<rect x="198" y="146" width="8" height="8" fill="#6f8179"/>
<rect x="206" y="146" width="8" height="8" fill="#70827a"/>
<rect x="214" y="146" width="8" height="8" fill="#73857d"/>
<rect x="222" y="146" width="8" height="8" fill="#798b84"/>
<rect x="230" y="146" width="8" height="8" fill="#80918a"/>
<rect x="238" y="146" width="8" height="8" fill="#84958e"/>
<rect x="246" y="146" width="8" height="8" fill="#85968f"/>
<rect x="254" y="146" width="8" height="8" fill="#85958f"/>
<rect x="262" y="146" width="8" height="8" fill="#84958e"/>
<rect x="270" y="146" width="8" height="8" fill="#84958e"/>
<rect x="278" y="146" width="8" height="8" fill="#879791"/>
<rect x="286" y="146" width="8" height="8" fill="#8c9c96"/>
<rect x="294" y="146" width="8" height="8" fill="#93a29c"/>
<rect x="302" y="146" width="8" height="8" fill="#98a6a1"/>
<rect x="310" y="146" width="8" height="8" fill="#9ba9a3"/>
<rect x="318" y="146" width="8" height="8" fill="#9ca9a4"/>
<rect x="326" y="146" width="8" height="8" fill="#9ba9a3"/>
<rect x="38" y="154" width="8" height="8" fill="#6c7675"/>
<rect x="46" y="154" width="8" height="8" fill="#6c7675"/>
<rect x="54" y="154" width="8" height="8" fill="#6b7675"/>
<rect x="62" y="154" width="8" height="8" fill="#6b7576"/>
<rect x="70" y="154" width="8" height="8" fill="#6b7576"/>
<rect x="78" y="154" width="8" height="8" fill="#6b7576"/>
<rect x="86" y="154" width="8" height="8" fill="#6b7777"/>
<rect x="94" y="154" width="8" height="8" fill="#6c7878"/>
<rect x="102" y="154" width="8" height="8" fill="#6c7878"/>
<rect x="110" y="154" width="8" height="8" fill="#6b7777"/>
<rect x="118" y="154" width="8" height="8" fill="#697674"/>
<rect x="126" y="154" width="8" height="8" fill="#677571"/>
<rect x="134" y="154" width="8" height="8" fill="#657470"/>
<rect x="142" y="154" width="8" height="8" fill="#65746f"/>
<rect x="150" y="154" width="8" height="8" fill="#65746f"/>
<rect x="158" y="154" width="8" height="8" fill="#667570"/>
<rect x="166" y="154" width="8" height="8" fill="#687873"/>
<rect x="174" y="154" width="8" height="8" fill="#6d7e77"/>
<rect x="182" y="154" width="8" height="8" fill="#6f8179"/>
<rect x="190" y="154" width="8" height="8" fill="#6f8179"/>
<rect x="198" y="154" width="8" height="8" fill="#6f8179"/>
<rect x="206" y="154" width="8" height="8" fill="#6f8179"/>
<rect x="214" y="154" width="8" height="8" fill="#72847c"/>
<rect x="222" y="154" width="8" height="8" fill="#7b8c85"/>
<rect x="230" y="154" width="8" height="8" fill="#83948d"/>
<rect x="238" y="154" width="8" height="8" fill="#879791"/>
<rect x="246" y="154" width="8" height="8" fill="#879791"/>
<rect x="254" y="154" width="8" height="8" fill="#879791"/>
<rect x="262" y="154" width="8" height="8" fill="#869690"/>
<rect x="270" y="154" width="8" height="8" fill="#869690"/>
<rect x="278" y="154" width="8" height="8" fill="#899992"/>
<rect x="286" y="154" width="8" height="8" fill="#8f9e98"/>
<rect x="294" y="154" width="8" height="8" fill="#96a59f"/>
<rect x="302" y="154" width="8" height="8" fill="#9ca9a4"/>
<rect x="310" y="154" width="8" height="8" fill="#9eaba6"/>
<rect x="318" y="154" width="8" height="8" fill="#9eaba6"/>
<rect x="326" y="154" width="8" height="8" fill="#9eaba6"/>
<rect x="38" y="162" width="8" height="8" fill="#6c7675"/>
<rect x="46" y="162" width="8" height="8" fill="#6c7675"/>
<rect x="54" y="162" width="8" height="8" fill="#6b7675"/>
<rect x="62" y="162" width="8" height="8" fill="#6b7576"/>
<rect x="70" y="162" width="8" height="8" fill="#6b7576"/>
<rect x="78" y="162" width="8" height="8" fill="#6b7576"/>
<rect x="86" y="162" width="8" height="8" fill="#6b7777"/>
<rect x="94" y="162" width="8" height="8" fill="#6c7878"/>
<rect x="102" y="162" width="8" height="8" fill="#6c7878"/>
<rect x="110" y="162" width="8" height="8" fill="#6b7777"/>
<rect x="118" y="162" width="8" height="8" fill="#697775"/>
<rect x="126" y="162" width="8" height="8" fill="#677672"/>
<rect x="134" y="162" width="8" height="8" fill="#667570"/>
<rect x="142" y="162" width="8" height="8" fill="#65746f"/>
<rect x="150" y="162" width="8" height="8" fill="#65746f"/>
<rect x="158" y="162" width="8" height="8" fill="#667570"/>
<rect x="166" y="162" width="8" height="8" fill="#697973"/>
<rect x="174" y="162" width="8" height="8" fill="#6d7e77"/>
<rect x="182" y="162" width="8" height="8" fill="#6f8179"/>
<rect x="190" y="162" width="8" height="8" fill="#6f8179"/>
<rect x="198" y="162" width="8" height="8" fill="#6f8179"/>
<rect x="206" y="162" width="8" height="8" fill="#70827a"/>
<rect x="214" y="162" width="8" height="8" fill="#73857d"/>
<rect x="222" y="162" width="8" height="8" fill="#7b8c85"/>
<rect x="230" y="162" width="8" height="8" fill="#83948d"/>
<rect x="238" y="162" width="8" height="8" fill="#869690"/>
<rect x="246" y="162" width="8" height="8" fill="#879791"/>
<rect x="254" y="162" width="8" height="8" fill="#879791"/>
<rect x="262" y="162" width="8" height="8" fill="#869690"/>
<rect x="270" y="162" width="8" height="8" fill="#869790"/>
<rect x="278" y="162" width="8" height="8" fill="#899993"/>
<rect x="286" y="162" width="8" height="8" fill="#909f99"/>
<rect x="294" y="162" width="8" height="8" fill="#97a59f"/>
<rect x="302" y="162" width="8" height="8" fill="#9ca9a4"/>
<rect x="310" y="162" width="8" height="8" fill="#9eaba6"/>
<rect x="318" y="162" width="8" height="8" fill="#9eaba6"/>
<rect x="326" y="162" width="8" height="8" fill="#9daba5"/>
<rect x="38" y="170" width="8" height="8" fill="#6c7675"/>
<rect x="46" y="170" width="8" height="8" fill="#6c7675"/>
<rect x="54" y="170" width="8" height="8" fill="#6b7675"/>
<rect x="62" y="170" width="8" height="8" fill="#6b7575"/>
<rect x="70" y="170" width="8" height="8" fill="#6b7576"/>
<rect x="78" y="170" width="8" height="8" fill="#6b7676"/>
<rect x="86" y="170" width="8" height="8" fill="#6b7776"/>
<rect x="94" y="170" width="8" height="8" fill="#6b7777"/>
<rect x="102" y="170" width="8" height="8" fill="#6b7777"/>
<rect x="110" y="170" width="8" height="8" fill="#6b7776"/>
<rect x="118" y="170" width="8" height="8" fill="#6a7775"/>
<rect x="126" y="170" width="8" height="8" fill="#687673"/>
<rect x="134" y="170" width="8" height="8" fill="#677671"/>
<rect x="142" y="170" width="8" height="8" fill="#667570"/>
<rect x="150" y="170" width="8" height="8" fill="#667670"/>
<rect x="158" y="170" width="8" height="8" fill="#677772"/>
<rect x="166" y="170" width="8" height="8" fill="#6a7a74"/>
<rect x="174" y="170" width="8" height="8" fill="#6d7e77"/>
<rect x="182" y="170" width="8" height="8" fill="#6f8079"/>
<rect x="190" y="170" width="8" height="8" fill="#6f8179"/>
<rect x="198" y="170" width="8" height="8" fill="#70827a"/>
<rect x="206" y="170" width="8" height="8" fill="#71837b"/>
<rect x="214" y="170" width="8" height="8" fill="#74867f"/>
<rect x="222" y="170" width="8" height="8" fill="#7b8c85"/>
<rect x="230" y="170" width="8" height="8" fill="#81918b"/>
<rect x="238" y="170" width="8" height="8" fill="#84948e"/>
<rect x="246" y="170" width="8" height="8" fill="#85968f"/>
<rect x="254" y="170" width="8" height="8" fill="#869690"/>
<rect x="262" y="170" width="8" height="8" fill="#85968f"/>
<rect x="270" y="170" width="8" height="8" fill="#869690"/>
<rect x="278" y="170" width="8" height="8" fill="#899993"/>
<rect x="286" y="170" width="8" height="8" fill="#8e9e98"/>
<rect x="294" y="170" width="8" height="8" fill="#95a39d"/>
<rect x="302" y="170" width="8" height="8" fill="#99a7a1"/>
<rect x="310" y="170" width="8" height="8" fill="#9ba9a4"/>
<rect x="318" y="170" width="8" height="8" fill="#9ca9a4"/>
<rect x="326" y="170" width="8" height="8" fill="#9ca9a4"/>
</g>
<path d="M57.3 9.4h0M49.6 8.7h0M78.0 9.5h0M70.2 8.8h0M62.5 8.1h0M54.9 7.4h0M47.4 6.7h0M98.7 9.5h0M90.8 8.8h0M83.0 8.1h0M75.2 7.4h0M67.6 6.7h0M60.1 6.0h0M52.6 5.4h0M45.3 4.7h0M119.5 9.5h0M111.4 8.8h0M103.4 8.1h0M95.6 7.4h0M87.8 6.7h0M80.1 6.1h0M72.6 5.4h0M65.1 4.7h0M140.2 9.5h0M132.0 8.8h0M123.9 8.1h0M115.9 7.4h0M108.0 6.8h0M100.2 6.1h0M92.5 5.4h0M84.9 4.8h0M161.0 9.6h0M152.7 8.9h0M144.4 8.2h0M136.3 7.5h0M128.3 6.8h0M120.3 6.1h0M112.5 5.4h0M104.8 4.8h0M181.8 9.6h0M173.3 8.9h0M164.9 8.2h0M156.7 7.5h0M148.5 6.8h0M140.4 6.1h0M132.5 5.5h0M124.6 4.8h0M193.9 8.9h0M185.4 8.2h0M177.0 7.5h0M168.7 6.8h0M160.6 6.2h0M152.5 5.5h0M144.5 4.8h0M214.6 8.9h0M206.0 8.2h0M197.4 7.5h0M189.0 6.9h0M180.7 6.2h0M172.5 5.5h0M164.4 4.9h0M235.3 9.0h0M226.5 8.3h0M217.8 7.6h0M209.3 6.9h0M200.8 6.2h0M192.5 5.5h0M184.3 4.9h0M256.0 9.0h0M247.0 8.3h0M238.2 7.6h0M229.6 6.9h0M221.0 6.2h0M212.5 5.6h0M204.1 4.9h0M276.6 9.0h0M267.6 8.3h0M258.7 7.6h0M249.8 6.9h0M241.1 6.2h0M232.5 5.6h0M224.0 4.9h0M297.3 9.0h0M288.2 8.3h0M279.1 7.6h0M270.1 6.9h0M261.3 6.3h0M252.6 5.6h0M244.0 4.9h0M318.0 9.1h0M308.7 8.4h0M299.5 7.7h0M290.4 7.0h0M281.5 6.3h0M272.6 5.6h0M263.9 5.0h0M320.0 7.7h0M310.8 7.0h0M301.7 6.3h0M292.7 5.7h0M283.8 5.0h0M321.9 6.3h0M312.7 5.7h0M303.7 5.0h0" stroke="#cbdad3" stroke-opacity="0" stroke-width="0.53" stroke-linecap="round" fill="none"/>
<path d="M58.0 9.3h0M50.4 8.6h0M78.7 9.3h0M70.9 8.6h0M63.2 7.9h0M55.6 7.2h0M48.1 6.5h0M99.5 9.3h0M91.5 8.6h0M83.7 7.9h0M76.0 7.2h0M68.3 6.6h0M60.8 5.9h0M53.4 5.2h0M46.0 4.6h0M120.2 9.4h0M112.2 8.7h0M104.2 8.0h0M96.3 7.3h0M88.6 6.6h0M80.9 5.9h0M73.3 5.2h0M65.8 4.6h0M141.0 9.4h0M132.8 8.7h0M124.7 8.0h0M116.7 7.3h0M108.8 6.6h0M101.0 5.9h0M93.3 5.3h0M85.7 4.6h0M161.8 9.4h0M153.4 8.7h0M145.2 8.0h0M137.0 7.3h0M129.0 6.6h0M121.1 6.0h0M113.3 5.3h0M105.5 4.6h0M182.5 9.4h0M174.0 8.7h0M165.7 8.0h0M157.4 7.3h0M149.2 6.7h0M141.2 6.0h0M133.2 5.3h0M125.4 4.7h0M194.7 8.8h0M186.2 8.1h0M177.8 7.4h0M169.5 6.7h0M161.3 6.0h0M153.2 5.3h0M145.2 4.7h0M215.4 8.8h0M206.7 8.1h0M198.2 7.4h0M189.8 6.7h0M181.4 6.0h0M173.2 5.4h0M165.1 4.7h0M236.0 8.8h0M227.2 8.1h0M218.6 7.4h0M210.0 6.7h0M201.6 6.0h0M193.2 5.4h0M185.0 4.7h0M256.7 8.8h0M247.8 8.1h0M239.0 7.4h0M230.3 6.7h0M221.7 6.1h0M213.3 5.4h0M204.9 4.7h0M277.4 8.9h0M268.3 8.2h0M259.4 7.5h0M250.6 6.8h0M241.9 6.1h0M233.3 5.4h0M224.8 4.8h0M298.1 8.9h0M288.9 8.2h0M279.8 7.5h0M270.9 6.8h0M262.1 6.1h0M253.3 5.5h0M244.7 4.8h0M318.8 8.9h0M309.5 8.2h0M300.3 7.5h0M291.2 6.8h0M282.2 6.1h0M273.4 5.5h0M264.6 4.8h0M320.7 7.5h0M311.5 6.8h0M302.4 6.2h0M293.4 5.5h0M284.6 4.8h0M322.6 6.2h0M313.5 5.5h0M304.5 4.9h0" stroke="#24302b" stroke-opacity="0" stroke-width="0.42" stroke-linecap="round" fill="none"/>
<path d="M54.3 13.1h0M46.4 12.3h0M67.7 12.3h0M59.7 11.6h0M51.9 10.8h0M72.9 10.9h0M65.0 10.1h0M85.9 10.2h0M106.8 10.2h0M127.7 10.2h0M148.6 10.3h0M169.5 10.3h0M190.4 10.3h0M211.3 10.3h0M202.6 9.6h0M232.2 10.4h0M223.4 9.6h0M253.2 10.4h0M244.2 9.7h0M274.1 10.4h0M265.0 9.7h0M295.1 10.4h0M285.8 9.7h0M316.1 10.5h0M306.6 9.7h0" stroke="#cbdad3" stroke-opacity="0" stroke-width="0.79" stroke-linecap="round" fill="none"/>
<path d="M55.3 12.9h0M47.4 12.2h0M68.6 12.2h0M60.7 11.4h0M52.9 10.7h0M73.9 10.7h0M66.0 10.0h0M86.9 10.0h0M107.7 10.1h0M128.6 10.1h0M149.5 10.1h0M170.4 10.1h0M191.3 10.2h0M212.3 10.2h0M203.5 9.5h0M233.2 10.2h0M224.3 9.5h0M254.1 10.2h0M245.1 9.5h0M275.1 10.3h0M266.0 9.5h0M296.1 10.3h0M286.8 9.6h0M317.0 10.3h0M307.6 9.6h0" stroke="#24302b" stroke-opacity="0" stroke-width="0.64" stroke-linecap="round" fill="none"/>
<path d="M50.3 23.7h0M56.3 22.0h0M47.7 21.1h0M70.7 21.1h0M62.1 20.2h0M53.6 19.4h0M45.3 18.6h0M76.2 19.4h0M67.8 18.6h0M59.4 17.8h0M51.1 16.9h0M90.2 18.6h0M81.7 17.8h0M73.3 17.0h0M65.0 16.2h0M56.8 15.4h0M48.7 14.6h0M112.7 18.6h0M104.0 17.8h0M95.4 17.0h0M87.0 16.2h0M78.6 15.4h0M70.4 14.6h0M62.3 13.8h0M135.2 18.7h0M126.3 17.8h0M117.6 17.0h0M109.0 16.2h0M100.5 15.4h0M92.1 14.6h0M83.9 13.9h0M75.7 13.1h0M157.7 18.7h0M148.7 17.9h0M139.8 17.0h0M131.0 16.2h0M122.4 15.4h0M113.8 14.7h0M105.4 13.9h0M97.1 13.1h0M88.9 12.4h0M80.9 11.6h0M180.2 18.7h0M171.0 17.9h0M162.0 17.1h0M153.0 16.3h0M144.3 15.5h0M135.6 14.7h0M127.0 13.9h0M118.6 13.1h0M110.2 12.4h0M102.0 11.6h0M93.9 10.9h0M202.7 18.8h0M193.4 17.9h0M184.2 17.1h0M175.1 16.3h0M166.1 15.5h0M157.3 14.7h0M148.6 13.9h0M140.0 13.2h0M131.5 12.4h0M123.2 11.7h0M114.9 10.9h0M225.2 18.8h0M215.7 18.0h0M206.4 17.1h0M197.2 16.3h0M188.0 15.5h0M179.1 14.7h0M170.2 14.0h0M161.5 13.2h0M152.8 12.4h0M144.3 11.7h0M135.9 11.0h0M247.8 18.8h0M238.1 18.0h0M228.6 17.2h0M219.2 16.4h0M210.0 15.6h0M200.8 14.8h0M191.8 14.0h0M182.9 13.2h0M174.2 12.5h0M165.5 11.7h0M157.0 11.0h0M260.5 18.0h0M250.8 17.2h0M241.3 16.4h0M231.9 15.6h0M222.6 14.8h0M213.4 14.0h0M204.4 13.2h0M195.5 12.5h0M186.7 11.7h0M178.0 11.0h0M282.9 18.0h0M273.1 17.2h0M263.4 16.4h0M253.8 15.6h0M244.4 14.8h0M235.1 14.0h0M225.9 13.3h0M216.8 12.5h0M207.9 11.8h0M199.1 11.0h0M305.3 18.1h0M295.3 17.3h0M285.5 16.4h0M275.8 15.6h0M266.2 14.9h0M256.7 14.1h0M247.4 13.3h0M238.2 12.5h0M229.1 11.8h0M220.1 11.1h0M317.6 17.3h0M307.6 16.5h0M297.7 15.7h0M288.0 14.9h0M278.4 14.1h0M268.9 13.3h0M259.5 12.6h0M250.3 11.8h0M241.2 11.1h0M319.7 15.7h0M309.8 14.9h0M300.0 14.1h0M290.4 13.4h0M280.9 12.6h0M271.5 11.9h0M262.3 11.1h0M321.7 14.2h0M311.9 13.4h0M302.3 12.6h0M292.8 11.9h0M283.4 11.1h0M314.0 11.9h0M304.5 11.2h0" stroke="#cbdad3" stroke-opacity="0.21" stroke-width="0.79" stroke-linecap="round" fill="none"/>
<path d="M51.2 23.6h0M57.2 21.8h0M48.7 20.9h0M71.6 21.0h0M63.1 20.1h0M54.6 19.2h0M46.3 18.4h0M77.2 19.3h0M68.7 18.4h0M60.4 17.6h0M52.1 16.8h0M91.2 18.5h0M82.7 17.6h0M74.2 16.8h0M65.9 16.0h0M57.8 15.2h0M49.7 14.4h0M113.7 18.5h0M105.0 17.7h0M96.4 16.8h0M87.9 16.0h0M79.6 15.2h0M71.4 14.4h0M63.3 13.7h0M136.2 18.5h0M127.3 17.7h0M118.6 16.9h0M110.0 16.1h0M101.5 15.3h0M93.1 14.5h0M84.8 13.7h0M76.7 12.9h0M158.7 18.6h0M149.6 17.7h0M140.8 16.9h0M132.0 16.1h0M123.3 15.3h0M114.8 14.5h0M106.4 13.7h0M98.1 13.0h0M89.9 12.2h0M81.8 11.5h0M181.2 18.6h0M172.0 17.7h0M162.9 16.9h0M154.0 16.1h0M145.2 15.3h0M136.5 14.5h0M128.0 13.8h0M119.5 13.0h0M111.2 12.2h0M103.0 11.5h0M94.9 10.8h0M203.7 18.6h0M194.3 17.8h0M185.1 17.0h0M176.1 16.1h0M167.1 15.3h0M158.3 14.6h0M149.6 13.8h0M141.0 13.0h0M132.5 12.3h0M124.1 11.5h0M115.9 10.8h0M226.2 18.6h0M216.7 17.8h0M207.4 17.0h0M198.1 16.2h0M189.0 15.4h0M180.0 14.6h0M171.2 13.8h0M162.4 13.0h0M153.8 12.3h0M145.3 11.5h0M136.9 10.8h0M248.8 18.7h0M239.1 17.8h0M229.6 17.0h0M220.2 16.2h0M210.9 15.4h0M201.8 14.6h0M192.8 13.8h0M183.9 13.1h0M175.1 12.3h0M166.5 11.6h0M158.0 10.8h0M261.5 17.9h0M251.8 17.0h0M242.3 16.2h0M232.9 15.4h0M223.6 14.6h0M214.4 13.9h0M205.4 13.1h0M196.5 12.3h0M187.7 11.6h0M179.0 10.9h0M283.9 17.9h0M274.1 17.1h0M264.4 16.3h0M254.8 15.5h0M245.4 14.7h0M236.1 13.9h0M226.9 13.1h0M217.8 12.4h0M208.9 11.6h0M200.1 10.9h0M306.3 17.9h0M296.3 17.1h0M286.5 16.3h0M276.7 15.5h0M267.2 14.7h0M257.7 13.9h0M248.4 13.2h0M239.2 12.4h0M230.1 11.6h0M221.1 10.9h0M318.6 17.1h0M308.6 16.3h0M298.7 15.5h0M289.0 14.7h0M279.4 13.9h0M269.9 13.2h0M260.5 12.4h0M251.3 11.7h0M242.2 10.9h0M320.7 15.5h0M310.8 14.8h0M301.0 14.0h0M291.4 13.2h0M281.9 12.4h0M272.5 11.7h0M263.3 11.0h0M322.7 14.0h0M312.9 13.2h0M303.3 12.5h0M293.8 11.7h0M284.4 11.0h0M315.0 11.8h0M305.5 11.0h0" stroke="#24302b" stroke-opacity="0.14" stroke-width="0.64" stroke-linecap="round" fill="none"/>
<path d="M45.4 36.6h0M61.6 35.5h0M52.1 34.5h0M58.5 32.4h0M49.3 31.4h0M64.8 30.4h0M55.7 29.4h0M46.6 28.4h0M70.9 28.4h0M61.8 27.4h0M52.9 26.5h0M76.8 26.5h0M67.8 25.6h0M59.0 24.6h0M82.6 24.7h0M73.7 23.8h0M64.9 22.9h0M97.1 23.8h0M88.2 22.9h0M79.4 22.0h0M120.6 23.8h0M111.5 22.9h0M102.5 22.0h0M93.6 21.1h0M84.9 20.3h0M144.1 23.9h0M134.8 22.9h0M125.6 22.1h0M116.6 21.2h0M107.7 20.3h0M98.9 19.5h0M167.5 23.9h0M158.1 23.0h0M148.7 22.1h0M139.5 21.2h0M130.5 20.3h0M121.5 19.5h0M191.0 23.9h0M181.4 23.0h0M171.9 22.1h0M162.5 21.2h0M153.3 20.4h0M144.2 19.5h0M214.5 24.0h0M204.7 23.0h0M195.0 22.2h0M185.5 21.3h0M176.1 20.4h0M166.8 19.5h0M238.1 24.0h0M228.1 23.1h0M218.2 22.2h0M208.5 21.3h0M198.9 20.4h0M189.5 19.6h0M261.6 24.0h0M251.4 23.1h0M241.4 22.2h0M231.5 21.3h0M221.8 20.5h0M212.2 19.6h0M285.1 24.0h0M274.8 23.1h0M264.6 22.2h0M254.5 21.4h0M244.6 20.5h0M234.9 19.6h0M308.7 24.1h0M298.2 23.2h0M287.8 22.3h0M277.6 21.4h0M267.5 20.5h0M257.6 19.7h0M321.6 23.2h0M311.0 22.3h0M300.6 21.4h0M290.4 20.6h0M280.3 19.7h0M270.3 18.9h0M313.3 20.6h0M303.0 19.7h0M292.9 18.9h0M315.5 18.9h0" stroke="#cbdad3" stroke-opacity="0.42" stroke-width="0.79" stroke-linecap="round" fill="none"/>
<path d="M46.3 36.5h0M62.5 35.4h0M53.0 34.3h0M59.5 32.2h0M50.2 31.2h0M65.8 30.2h0M56.6 29.2h0M47.6 28.2h0M71.9 28.3h0M62.8 27.3h0M53.9 26.3h0M77.8 26.4h0M68.8 25.4h0M60.0 24.5h0M83.6 24.5h0M74.7 23.6h0M65.9 22.7h0M98.1 23.6h0M89.2 22.7h0M80.3 21.8h0M121.6 23.7h0M112.4 22.8h0M103.4 21.9h0M94.6 21.0h0M85.8 20.1h0M145.0 23.7h0M135.7 22.8h0M126.6 21.9h0M117.5 21.0h0M108.6 20.2h0M99.8 19.3h0M168.5 23.7h0M159.0 22.8h0M149.7 21.9h0M140.5 21.1h0M131.4 20.2h0M122.5 19.3h0M192.0 23.8h0M182.4 22.9h0M172.9 22.0h0M163.5 21.1h0M154.2 20.2h0M145.1 19.4h0M215.5 23.8h0M205.7 22.9h0M196.0 22.0h0M186.5 21.1h0M177.1 20.3h0M167.8 19.4h0M239.0 23.8h0M229.0 22.9h0M219.2 22.0h0M209.5 21.2h0M199.9 20.3h0M190.5 19.4h0M262.6 23.9h0M252.4 23.0h0M242.4 22.1h0M232.5 21.2h0M222.7 20.3h0M213.1 19.5h0M286.1 23.9h0M275.8 23.0h0M265.6 22.1h0M255.5 21.2h0M245.6 20.3h0M235.8 19.5h0M309.7 23.9h0M299.1 23.0h0M288.8 22.1h0M278.6 21.2h0M268.5 20.4h0M258.5 19.5h0M322.5 23.1h0M312.0 22.2h0M301.6 21.3h0M291.4 20.4h0M281.3 19.5h0M271.3 18.7h0M314.3 20.4h0M304.0 19.6h0M293.9 18.7h0M316.5 18.8h0" stroke="#24302b" stroke-opacity="0.28" stroke-width="0.64" stroke-linecap="round" fill="none"/>
<path d="M71.2 36.6h0M87.2 35.6h0M77.5 34.5h0M68.0 33.4h0M103.0 34.5h0M93.2 33.5h0M83.6 32.4h0M74.2 31.4h0M128.5 34.6h0M118.5 33.5h0M108.7 32.5h0M99.0 31.4h0M89.5 30.4h0M80.2 29.4h0M154.0 34.6h0M143.8 33.5h0M133.8 32.5h0M123.9 31.5h0M114.2 30.4h0M104.7 29.4h0M95.3 28.4h0M86.0 27.5h0M179.5 34.7h0M169.2 33.6h0M158.9 32.5h0M148.9 31.5h0M139.0 30.5h0M129.2 29.5h0M119.6 28.5h0M110.1 27.5h0M100.8 26.5h0M91.6 25.6h0M205.1 34.7h0M194.5 33.6h0M184.1 32.6h0M173.8 31.5h0M163.7 30.5h0M153.7 29.5h0M144.0 28.5h0M134.3 27.5h0M124.8 26.6h0M115.4 25.6h0M106.2 24.7h0M230.6 34.7h0M219.8 33.7h0M209.2 32.6h0M198.7 31.6h0M188.4 30.5h0M178.3 29.5h0M168.3 28.6h0M158.5 27.6h0M148.8 26.6h0M139.3 25.7h0M129.9 24.7h0M256.2 34.8h0M245.2 33.7h0M234.4 32.6h0M223.7 31.6h0M213.2 30.6h0M202.9 29.6h0M192.7 28.6h0M182.7 27.6h0M172.8 26.7h0M163.1 25.7h0M153.5 24.8h0M281.8 34.8h0M270.6 33.7h0M259.6 32.7h0M248.7 31.6h0M238.0 30.6h0M227.5 29.6h0M217.1 28.6h0M206.9 27.6h0M196.8 26.7h0M186.9 25.7h0M177.2 24.8h0M307.4 34.8h0M296.0 33.8h0M284.7 32.7h0M273.7 31.7h0M262.8 30.7h0M252.1 29.7h0M241.5 28.7h0M231.1 27.7h0M220.9 26.7h0M210.8 25.8h0M200.8 24.8h0M321.4 33.8h0M309.9 32.8h0M298.7 31.7h0M287.6 30.7h0M276.7 29.7h0M265.9 28.7h0M255.3 27.7h0M244.9 26.8h0M234.6 25.8h0M224.5 24.9h0M312.4 30.7h0M301.3 29.7h0M290.4 28.7h0M279.6 27.8h0M269.0 26.8h0M258.5 25.8h0M248.2 24.9h0M314.8 28.8h0M303.8 27.8h0M293.0 26.8h0M282.4 25.9h0M271.9 24.9h0M317.1 26.9h0M306.3 25.9h0M295.6 25.0h0M319.4 25.0h0" stroke="#cbdad3" stroke-opacity="0.64" stroke-width="0.79" stroke-linecap="round" fill="none"/>
<path d="M72.2 36.5h0M88.2 35.4h0M78.5 34.4h0M68.9 33.3h0M104.0 34.4h0M94.2 33.3h0M84.6 32.3h0M75.1 31.2h0M129.5 34.4h0M119.5 33.4h0M109.7 32.3h0M100.0 31.3h0M90.5 30.3h0M81.1 29.3h0M155.0 34.5h0M144.8 33.4h0M134.8 32.3h0M124.9 31.3h0M115.2 30.3h0M105.6 29.3h0M96.2 28.3h0M87.0 27.3h0M180.5 34.5h0M170.1 33.4h0M159.9 32.4h0M149.8 31.3h0M139.9 30.3h0M130.2 29.3h0M120.6 28.3h0M111.1 27.4h0M101.8 26.4h0M92.6 25.5h0M206.1 34.5h0M195.5 33.5h0M185.0 32.4h0M174.8 31.4h0M164.7 30.4h0M154.7 29.4h0M144.9 28.4h0M135.3 27.4h0M125.8 26.4h0M116.4 25.5h0M107.2 24.6h0M231.6 34.6h0M220.8 33.5h0M210.2 32.5h0M199.7 31.4h0M189.4 30.4h0M179.3 29.4h0M169.3 28.4h0M159.5 27.4h0M149.8 26.5h0M140.2 25.5h0M130.8 24.6h0M257.2 34.6h0M246.2 33.5h0M235.3 32.5h0M224.7 31.5h0M214.2 30.4h0M203.9 29.4h0M193.7 28.4h0M183.7 27.5h0M173.8 26.5h0M164.1 25.6h0M154.5 24.6h0M282.8 34.7h0M271.6 33.6h0M260.5 32.5h0M249.7 31.5h0M239.0 30.5h0M228.4 29.5h0M218.1 28.5h0M207.9 27.5h0M197.8 26.5h0M187.9 25.6h0M178.1 24.7h0M308.4 34.7h0M297.0 33.6h0M285.7 32.6h0M274.7 31.5h0M263.8 30.5h0M253.0 29.5h0M242.5 28.5h0M232.1 27.5h0M221.8 26.6h0M211.7 25.6h0M201.8 24.7h0M322.4 33.7h0M310.9 32.6h0M299.7 31.6h0M288.6 30.5h0M277.6 29.5h0M266.9 28.5h0M256.3 27.6h0M245.9 26.6h0M235.6 25.7h0M225.5 24.7h0M313.4 30.6h0M302.3 29.6h0M291.3 28.6h0M280.6 27.6h0M269.9 26.6h0M259.5 25.7h0M249.2 24.8h0M315.8 28.6h0M304.8 27.6h0M294.0 26.7h0M283.4 25.7h0M272.9 24.8h0M318.1 26.7h0M307.3 25.8h0M296.6 24.8h0M320.4 24.9h0" stroke="#24302b" stroke-opacity="0.41" stroke-width="0.64" stroke-linecap="round" fill="none"/>
<path d="M97.1 36.7h0M123.0 36.7h0M112.9 35.6h0M148.9 36.8h0M138.6 35.7h0M174.9 36.8h0M164.4 35.7h0M200.8 36.8h0M190.1 35.7h0M226.8 36.9h0M215.9 35.8h0M252.8 36.9h0M241.6 35.8h0M278.8 37.0h0M267.4 35.9h0M304.8 37.0h0M293.2 35.9h0M319.0 35.9h0" stroke="#cbdad3" stroke-opacity="0.85" stroke-width="0.79" stroke-linecap="round" fill="none"/>
<path d="M98.1 36.5h0M124.0 36.6h0M113.9 35.5h0M149.9 36.6h0M139.6 35.5h0M175.9 36.7h0M165.3 35.6h0M201.8 36.7h0M191.1 35.6h0M227.8 36.7h0M216.8 35.6h0M253.7 36.8h0M242.6 35.7h0M279.7 36.8h0M268.4 35.7h0M305.7 36.9h0M294.2 35.7h0M320.0 35.8h0" stroke="#24302b" stroke-opacity="0.55" stroke-width="0.64" stroke-linecap="round" fill="none"/>
<path d="M45.4 61.2h0M53.3 58.2h0M50.0 53.9h0M46.9 49.8h0M51.1 43.5h0M48.2 40.0h0M55.0 37.7h0" stroke="#cbdad3" stroke-opacity="0.42" stroke-width="1.05" stroke-linecap="round" fill="none"/>
<path d="M46.6 61.0h0M54.5 58.0h0M51.2 53.7h0M48.1 49.7h0M52.3 43.4h0M49.4 39.8h0M56.2 37.6h0" stroke="#24302b" stroke-opacity="0.28" stroke-width="0.85" stroke-linecap="round" fill="none"/>
<path d="M76.0 61.2h0M64.5 59.7h0M72.0 56.8h0M60.9 55.3h0M79.2 53.9h0M68.2 52.5h0M57.5 51.2h0M75.3 49.9h0M64.6 48.5h0M54.2 47.2h0M71.6 46.0h0M61.3 44.8h0M78.3 43.6h0M68.1 42.3h0M58.0 41.2h0M74.7 40.0h0M64.7 38.9h0M81.1 37.8h0" stroke="#cbdad3" stroke-opacity="0.64" stroke-width="1.05" stroke-linecap="round" fill="none"/>
<path d="M77.2 61.1h0M65.7 59.5h0M73.2 56.6h0M62.1 55.2h0M80.4 53.8h0M69.4 52.4h0M58.7 51.0h0M76.5 49.7h0M65.8 48.4h0M55.4 47.1h0M72.8 45.9h0M62.5 44.6h0M79.5 43.4h0M69.3 42.2h0M59.2 41.0h0M75.9 39.9h0M65.9 38.7h0M82.3 37.6h0" stroke="#24302b" stroke-opacity="0.41" stroke-width="0.85" stroke-linecap="round" fill="none"/>
<path d="M106.5 61.3h0M94.8 59.7h0M83.3 58.2h0M137.1 61.3h0M125.1 59.8h0M113.3 58.3h0M101.7 56.8h0M90.3 55.4h0M167.7 61.4h0M155.4 59.8h0M143.3 58.3h0M131.4 56.9h0M119.8 55.4h0M108.3 54.0h0M97.1 52.6h0M86.1 51.2h0M198.3 61.4h0M185.7 59.9h0M173.3 58.4h0M161.1 56.9h0M149.2 55.5h0M137.5 54.0h0M126.0 52.6h0M114.8 51.3h0M103.7 49.9h0M92.8 48.6h0M82.1 47.3h0M228.9 61.5h0M216.0 59.9h0M203.3 58.4h0M190.9 57.0h0M178.7 55.5h0M166.7 54.1h0M155.0 52.7h0M143.4 51.3h0M132.1 50.0h0M120.9 48.6h0M110.0 47.3h0M99.2 46.1h0M88.7 44.8h0M259.6 61.5h0M246.3 60.0h0M233.4 58.5h0M220.7 57.0h0M208.2 55.6h0M196.0 54.1h0M183.9 52.7h0M172.1 51.4h0M160.5 50.0h0M149.1 48.7h0M137.9 47.4h0M126.9 46.1h0M116.1 44.8h0M105.5 43.6h0M95.0 42.4h0M84.8 41.2h0M290.2 61.6h0M276.7 60.1h0M263.5 58.5h0M250.5 57.1h0M237.7 55.6h0M225.2 54.2h0M212.9 52.8h0M200.8 51.4h0M189.0 50.1h0M177.3 48.7h0M165.9 47.4h0M154.6 46.1h0M143.6 44.9h0M132.7 43.7h0M122.0 42.4h0M111.5 41.2h0M101.2 40.1h0M91.1 38.9h0M320.9 61.7h0M307.1 60.1h0M293.6 58.6h0M280.3 57.1h0M267.3 55.7h0M254.5 54.2h0M241.9 52.8h0M229.6 51.5h0M217.4 50.1h0M205.5 48.8h0M193.8 47.5h0M182.3 46.2h0M171.0 44.9h0M159.9 43.7h0M149.0 42.5h0M138.3 41.3h0M127.8 40.1h0M117.4 38.9h0M107.2 37.8h0M310.1 57.2h0M296.8 55.7h0M283.7 54.3h0M270.9 52.9h0M258.3 51.5h0M245.9 50.2h0M233.8 48.8h0M221.8 47.5h0M210.1 46.2h0M198.5 45.0h0M187.2 43.7h0M176.0 42.5h0M165.1 41.3h0M154.3 40.1h0M143.7 39.0h0M133.3 37.8h0M313.0 54.3h0M299.9 52.9h0M287.1 51.6h0M274.4 50.2h0M262.0 48.9h0M249.8 47.6h0M237.8 46.3h0M226.0 45.0h0M214.5 43.8h0M203.1 42.6h0M191.9 41.4h0M180.9 40.2h0M170.1 39.0h0M159.4 37.9h0M315.8 51.6h0M302.9 50.3h0M290.3 48.9h0M277.8 47.6h0M265.6 46.3h0M253.6 45.1h0M241.7 43.8h0M230.1 42.6h0M218.7 41.4h0M207.5 40.2h0M196.4 39.1h0M185.6 37.9h0M318.6 49.0h0M305.9 47.7h0M293.4 46.4h0M281.1 45.1h0M269.0 43.9h0M257.2 42.7h0M245.5 41.5h0M234.1 40.3h0M222.8 39.1h0M211.7 38.0h0M321.2 46.4h0M308.7 45.2h0M296.4 43.9h0M284.3 42.7h0M272.4 41.5h0M260.7 40.3h0M249.2 39.2h0M237.9 38.0h0M311.4 42.7h0M299.3 41.5h0M287.3 40.4h0M275.6 39.2h0M264.1 38.1h0M314.0 40.4h0M302.1 39.2h0M290.3 38.1h0M316.5 38.1h0" stroke="#cbdad3" stroke-opacity="0.85" stroke-width="1.05" stroke-linecap="round" fill="none"/>
<path d="M107.7 61.1h0M96.0 59.6h0M84.5 58.1h0M138.3 61.2h0M126.3 59.6h0M114.5 58.1h0M102.9 56.7h0M91.5 55.2h0M168.9 61.2h0M156.6 59.7h0M144.5 58.2h0M132.6 56.7h0M121.0 55.3h0M109.5 53.8h0M98.3 52.4h0M87.3 51.1h0M199.5 61.3h0M186.9 59.7h0M174.5 58.2h0M162.3 56.8h0M150.4 55.3h0M138.7 53.9h0M127.2 52.5h0M116.0 51.1h0M104.9 49.8h0M94.0 48.4h0M83.3 47.1h0M230.1 61.3h0M217.2 59.8h0M204.5 58.3h0M192.1 56.8h0M179.9 55.4h0M167.9 53.9h0M156.2 52.5h0M144.6 51.2h0M133.3 49.8h0M122.1 48.5h0M111.2 47.2h0M100.4 45.9h0M89.9 44.7h0M260.8 61.4h0M247.5 59.9h0M234.6 58.3h0M221.9 56.9h0M209.4 55.4h0M197.2 54.0h0M185.1 52.6h0M173.3 51.2h0M161.7 49.9h0M150.3 48.5h0M139.1 47.2h0M128.1 46.0h0M117.3 44.7h0M106.7 43.5h0M96.2 42.2h0M86.0 41.0h0M291.4 61.4h0M277.9 59.9h0M264.7 58.4h0M251.7 56.9h0M238.9 55.5h0M226.4 54.0h0M214.1 52.6h0M202.0 51.3h0M190.2 49.9h0M178.5 48.6h0M167.1 47.3h0M155.8 46.0h0M144.8 44.7h0M133.9 43.5h0M123.2 42.3h0M112.7 41.1h0M102.4 39.9h0M92.3 38.8h0M322.1 61.5h0M308.3 60.0h0M294.8 58.5h0M281.5 57.0h0M268.5 55.5h0M255.7 54.1h0M243.1 52.7h0M230.8 51.3h0M218.6 50.0h0M206.7 48.6h0M195.0 47.3h0M183.5 46.0h0M172.2 44.8h0M161.1 43.5h0M150.2 42.3h0M139.5 41.1h0M129.0 40.0h0M118.6 38.8h0M108.4 37.7h0M311.3 57.0h0M298.0 55.6h0M284.9 54.1h0M272.1 52.7h0M259.5 51.4h0M247.1 50.0h0M235.0 48.7h0M223.0 47.4h0M211.3 46.1h0M199.7 44.8h0M188.4 43.6h0M177.2 42.4h0M166.3 41.2h0M155.5 40.0h0M144.9 38.8h0M134.5 37.7h0M314.2 54.2h0M301.1 52.8h0M288.3 51.4h0M275.6 50.1h0M263.2 48.7h0M251.0 47.4h0M239.0 46.1h0M227.2 44.9h0M215.7 43.6h0M204.3 42.4h0M193.1 41.2h0M182.1 40.0h0M171.3 38.9h0M160.6 37.7h0M317.0 51.5h0M304.1 50.1h0M291.5 48.8h0M279.0 47.5h0M266.8 46.2h0M254.8 44.9h0M242.9 43.7h0M231.3 42.5h0M219.9 41.3h0M208.7 40.1h0M197.6 38.9h0M186.8 37.8h0M319.8 48.8h0M307.1 47.5h0M294.6 46.2h0M282.3 45.0h0M270.2 43.7h0M258.4 42.5h0M246.7 41.3h0M235.3 40.1h0M224.0 39.0h0M212.9 37.8h0M322.4 46.3h0M309.9 45.0h0M297.6 43.8h0M285.5 42.5h0M273.6 41.3h0M261.9 40.2h0M250.4 39.0h0M239.1 37.9h0M312.6 42.6h0M300.5 41.4h0M288.5 40.2h0M276.8 39.0h0M265.3 37.9h0M315.2 40.2h0M303.3 39.1h0M291.5 37.9h0M317.7 38.0h0" stroke="#24302b" stroke-opacity="0.55" stroke-width="0.85" stroke-linecap="round" fill="none"/>
<path d="M51.1 85.8h0M47.3 79.9h0M52.3 70.9h0M48.8 65.9h0" stroke="#cbdad3" stroke-opacity="0.42" stroke-width="1.31" stroke-linecap="round" fill="none"/>
<path d="M52.5 85.6h0M48.7 79.7h0M53.7 70.7h0M50.2 65.7h0" stroke="#24302b" stroke-opacity="0.28" stroke-width="1.06" stroke-linecap="round" fill="none"/>
<path d="M73.0 83.8h0M60.0 81.8h0M68.6 78.0h0M56.0 76.2h0M76.8 74.4h0M64.4 72.6h0M72.5 69.2h0M60.5 67.5h0M80.2 65.9h0M68.4 64.3h0M56.8 62.7h0" stroke="#cbdad3" stroke-opacity="0.64" stroke-width="1.31" stroke-linecap="round" fill="none"/>
<path d="M74.4 83.6h0M61.4 81.7h0M70.0 77.9h0M57.5 76.0h0M78.2 74.3h0M65.8 72.5h0M73.9 69.1h0M61.9 67.4h0M81.6 65.8h0M69.8 64.2h0M58.2 62.6h0" stroke="#24302b" stroke-opacity="0.41" stroke-width="1.06" stroke-linecap="round" fill="none"/>
<path d="M86.3 85.8h0M121.5 85.9h0M107.8 83.9h0M94.5 81.9h0M81.4 79.9h0M156.7 86.0h0M142.7 83.9h0M128.9 82.0h0M115.5 80.0h0M102.3 78.1h0M89.4 76.2h0M192.0 86.0h0M177.6 84.0h0M163.4 82.0h0M149.6 80.1h0M136.1 78.2h0M122.8 76.3h0M109.8 74.5h0M97.1 72.7h0M84.7 70.9h0M227.3 86.1h0M212.5 84.1h0M197.9 82.1h0M183.7 80.1h0M169.8 78.2h0M156.2 76.4h0M142.9 74.5h0M129.8 72.7h0M117.0 71.0h0M104.5 69.3h0M92.2 67.6h0M262.6 86.2h0M247.4 84.2h0M232.5 82.2h0M217.9 80.2h0M203.6 78.3h0M189.7 76.4h0M176.0 74.6h0M162.6 72.8h0M149.5 71.0h0M136.6 69.3h0M124.0 67.6h0M111.6 66.0h0M99.5 64.4h0M87.6 62.8h0M282.4 84.2h0M267.1 82.2h0M252.1 80.3h0M237.5 78.4h0M223.1 76.5h0M209.1 74.7h0M195.4 72.9h0M181.9 71.1h0M168.7 69.4h0M155.8 67.7h0M143.1 66.0h0M130.7 64.4h0M118.5 62.8h0M317.3 84.3h0M301.7 82.3h0M286.3 80.3h0M271.3 78.4h0M256.6 76.6h0M242.3 74.7h0M228.2 72.9h0M214.4 71.2h0M200.8 69.4h0M187.6 67.8h0M174.6 66.1h0M161.8 64.5h0M149.3 62.9h0M320.6 80.4h0M305.2 78.5h0M290.2 76.6h0M275.4 74.8h0M261.0 73.0h0M246.8 71.2h0M233.0 69.5h0M219.4 67.8h0M206.1 66.2h0M193.0 64.5h0M180.2 62.9h0M308.6 74.9h0M293.8 73.1h0M279.3 71.3h0M265.2 69.6h0M251.2 67.9h0M237.6 66.2h0M224.2 64.6h0M211.1 63.0h0M311.9 71.4h0M297.3 69.6h0M283.1 67.9h0M269.2 66.3h0M255.5 64.6h0M242.1 63.1h0M315.0 68.0h0M300.7 66.3h0M286.7 64.7h0M273.0 63.1h0M318.0 64.8h0M304.0 63.2h0" stroke="#cbdad3" stroke-opacity="0.85" stroke-width="1.31" stroke-linecap="round" fill="none"/>
<path d="M87.7 85.7h0M122.9 85.8h0M109.3 83.7h0M95.9 81.7h0M82.8 79.8h0M158.2 85.8h0M144.1 83.8h0M130.4 81.8h0M116.9 79.9h0M103.7 77.9h0M90.8 76.1h0M193.4 85.9h0M179.0 83.9h0M164.8 81.9h0M151.0 79.9h0M137.5 78.0h0M124.2 76.1h0M111.2 74.3h0M98.5 72.5h0M86.1 70.8h0M228.7 86.0h0M213.9 83.9h0M199.4 81.9h0M185.2 80.0h0M171.3 78.1h0M157.6 76.2h0M144.3 74.4h0M131.3 72.6h0M118.5 70.8h0M105.9 69.1h0M93.7 67.4h0M264.1 86.0h0M248.8 84.0h0M233.9 82.0h0M219.3 80.1h0M205.1 78.1h0M191.1 76.3h0M177.4 74.4h0M164.0 72.7h0M150.9 70.9h0M138.0 69.2h0M125.4 67.5h0M113.1 65.8h0M100.9 64.2h0M89.1 62.6h0M283.8 84.1h0M268.5 82.1h0M253.5 80.1h0M238.9 78.2h0M224.6 76.3h0M210.5 74.5h0M196.8 72.7h0M183.3 71.0h0M170.1 69.2h0M157.2 67.5h0M144.5 65.9h0M132.1 64.3h0M119.9 62.7h0M318.8 84.2h0M303.1 82.2h0M287.8 80.2h0M272.8 78.3h0M258.1 76.4h0M243.7 74.6h0M229.6 72.8h0M215.8 71.0h0M202.3 69.3h0M189.0 67.6h0M176.0 65.9h0M163.3 64.3h0M150.8 62.7h0M322.0 80.3h0M306.6 78.4h0M291.6 76.5h0M276.8 74.6h0M262.4 72.8h0M248.3 71.1h0M234.4 69.4h0M220.8 67.7h0M207.5 66.0h0M194.4 64.4h0M181.6 62.8h0M310.0 74.7h0M295.3 72.9h0M280.8 71.1h0M266.6 69.4h0M252.7 67.7h0M239.0 66.1h0M225.7 64.4h0M212.6 62.8h0M313.3 71.2h0M298.8 69.5h0M284.5 67.8h0M270.6 66.1h0M256.9 64.5h0M243.5 62.9h0M316.4 67.8h0M302.2 66.2h0M288.2 64.6h0M274.4 63.0h0M319.4 64.6h0M305.4 63.0h0" stroke="#24302b" stroke-opacity="0.55" stroke-width="1.06" stroke-linecap="round" fill="none"/>
<path d="M49.6 103.5h0M45.6 96.4h0" stroke="#cbdad3" stroke-opacity="0.42" stroke-width="1.58" stroke-linecap="round" fill="none"/>
<path d="M51.3 103.3h0M47.2 96.3h0" stroke="#24302b" stroke-opacity="0.28" stroke-width="1.27" stroke-linecap="round" fill="none"/>
<path d="M64.1 106.0h0M73.6 101.1h0M59.4 98.8h0M68.8 94.3h0M55.1 92.0h0M77.7 90.0h0M64.3 87.8h0" stroke="#cbdad3" stroke-opacity="0.64" stroke-width="1.58" stroke-linecap="round" fill="none"/>
<path d="M65.7 105.8h0M75.3 101.0h0M61.1 98.6h0M70.4 94.1h0M56.8 91.9h0M79.4 89.8h0M65.9 87.7h0" stroke="#24302b" stroke-opacity="0.41" stroke-width="1.27" stroke-linecap="round" fill="none"/>
<path d="M103.1 106.1h0M88.2 103.6h0M142.2 106.2h0M126.8 103.7h0M111.8 101.2h0M97.1 98.9h0M82.8 96.5h0M181.3 106.3h0M165.4 103.8h0M149.9 101.3h0M134.8 98.9h0M120.0 96.6h0M105.6 94.3h0M91.5 92.1h0M220.4 106.3h0M204.0 103.8h0M188.1 101.4h0M172.5 99.0h0M157.3 96.7h0M142.4 94.4h0M127.9 92.2h0M113.7 90.0h0M99.8 87.9h0M259.6 106.4h0M242.7 103.9h0M226.3 101.5h0M210.3 99.1h0M194.6 96.8h0M179.3 94.5h0M164.4 92.3h0M149.7 90.1h0M135.5 88.0h0M298.8 106.5h0M281.4 104.0h0M264.5 101.6h0M248.1 99.2h0M231.9 96.9h0M216.2 94.6h0M200.8 92.4h0M185.8 90.2h0M171.1 88.1h0M320.2 104.1h0M302.8 101.7h0M285.9 99.3h0M269.3 96.9h0M253.1 94.7h0M237.3 92.4h0M221.9 90.3h0M206.8 88.1h0M306.7 97.0h0M290.1 94.7h0M273.9 92.5h0M258.0 90.3h0M242.5 88.2h0M310.4 92.6h0M294.1 90.4h0M278.2 88.3h0M314.0 88.4h0M298.0 86.3h0" stroke="#cbdad3" stroke-opacity="0.85" stroke-width="1.58" stroke-linecap="round" fill="none"/>
<path d="M104.8 105.9h0M89.8 103.4h0M143.8 106.0h0M128.4 103.5h0M113.4 101.1h0M98.8 98.7h0M84.4 96.4h0M182.9 106.1h0M167.0 103.6h0M151.6 101.2h0M136.4 98.8h0M121.7 96.5h0M107.2 94.2h0M93.2 92.0h0M222.0 106.2h0M205.7 103.7h0M189.7 101.3h0M174.2 98.9h0M158.9 96.5h0M144.1 94.3h0M129.6 92.0h0M115.4 89.9h0M101.5 87.8h0M261.2 106.3h0M244.4 103.8h0M228.0 101.3h0M211.9 99.0h0M196.3 96.6h0M181.0 94.4h0M166.0 92.1h0M151.4 90.0h0M137.1 87.8h0M300.4 106.4h0M283.1 103.9h0M266.2 101.4h0M249.7 99.0h0M233.6 96.7h0M217.9 94.4h0M202.5 92.2h0M187.4 90.0h0M172.8 87.9h0M321.8 104.0h0M304.5 101.5h0M287.5 99.1h0M271.0 96.8h0M254.8 94.5h0M239.0 92.3h0M223.5 90.1h0M208.4 88.0h0M308.4 96.9h0M291.7 94.6h0M275.5 92.4h0M259.6 90.2h0M244.1 88.1h0M312.1 92.4h0M295.8 90.3h0M279.8 88.1h0M315.6 88.2h0M299.6 86.1h0" stroke="#24302b" stroke-opacity="0.55" stroke-width="1.27" stroke-linecap="round" fill="none"/>
<path d="M47.9 125.0h0" stroke="#cbdad3" stroke-opacity="0.42" stroke-width="1.84" stroke-linecap="round" fill="none"/>
<path d="M49.8 124.8h0" stroke="#24302b" stroke-opacity="0.28" stroke-width="1.49" stroke-linecap="round" fill="none"/>
<path d="M63.9 128.0h0M74.4 122.1h0M58.8 119.2h0M69.1 113.7h0M54.0 111.1h0M78.9 108.5h0" stroke="#cbdad3" stroke-opacity="0.64" stroke-width="1.84" stroke-linecap="round" fill="none"/>
<path d="M65.7 127.9h0M76.3 122.0h0M60.6 119.1h0M70.9 113.6h0M55.9 110.9h0M80.7 108.4h0" stroke="#24302b" stroke-opacity="0.41" stroke-width="1.49" stroke-linecap="round" fill="none"/>
<path d="M107.1 128.1h0M90.5 125.1h0M150.3 128.3h0M133.2 125.2h0M116.5 122.2h0M100.3 119.3h0M84.5 116.5h0M193.6 128.4h0M175.9 125.3h0M158.7 122.3h0M141.9 119.4h0M125.5 116.6h0M109.6 113.8h0M94.0 111.2h0M236.9 128.5h0M218.6 125.4h0M200.8 122.4h0M183.5 119.5h0M166.6 116.7h0M150.1 113.9h0M134.0 111.3h0M118.4 108.6h0M280.3 128.6h0M261.4 125.5h0M243.0 122.5h0M225.1 119.6h0M207.7 116.8h0M190.7 114.0h0M174.1 111.4h0M157.9 108.7h0M304.2 125.6h0M285.3 122.6h0M266.8 119.7h0M248.8 116.9h0M231.3 114.1h0M214.2 111.4h0M197.5 108.8h0M308.5 119.8h0M290.0 117.0h0M271.9 114.2h0M254.3 111.5h0M237.1 108.9h0M312.6 114.3h0M294.5 111.6h0M276.8 109.0h0M316.5 109.1h0" stroke="#cbdad3" stroke-opacity="0.85" stroke-width="1.84" stroke-linecap="round" fill="none"/>
<path d="M108.9 128.0h0M92.4 124.9h0M152.2 128.1h0M135.1 125.0h0M118.4 122.1h0M102.2 119.2h0M86.3 116.4h0M195.5 128.2h0M177.8 125.2h0M160.5 122.2h0M143.7 119.3h0M127.4 116.5h0M111.4 113.7h0M95.9 111.0h0M238.8 128.3h0M220.5 125.3h0M202.7 122.3h0M185.3 119.4h0M168.4 116.6h0M152.0 113.8h0M135.9 111.1h0M120.3 108.5h0M282.2 128.4h0M263.3 125.4h0M244.9 122.4h0M227.0 119.5h0M209.6 116.7h0M192.5 113.9h0M176.0 111.2h0M159.8 108.6h0M306.1 125.5h0M287.2 122.5h0M268.7 119.6h0M250.7 116.8h0M233.2 114.0h0M216.1 111.3h0M199.4 108.7h0M310.4 119.7h0M291.9 116.8h0M273.8 114.1h0M256.2 111.4h0M239.0 108.8h0M314.5 114.2h0M296.4 111.5h0M278.7 108.9h0M318.4 108.9h0" stroke="#24302b" stroke-opacity="0.55" stroke-width="1.49" stroke-linecap="round" fill="none"/>
<path d="M52.7 134.3h0" stroke="#cbdad3" stroke-opacity="0.42" stroke-width="2.1" stroke-linecap="round" fill="none"/>
<path d="M54.8 134.1h0" stroke="#24302b" stroke-opacity="0.28" stroke-width="1.7" stroke-linecap="round" fill="none"/>
<path d="M75.4 148.0h0M57.9 144.4h0M69.4 137.6h0M80.2 131.2h0" stroke="#cbdad3" stroke-opacity="0.64" stroke-width="2.1" stroke-linecap="round" fill="none"/>
<path d="M77.5 147.8h0M60.0 144.2h0M71.5 137.4h0M82.3 131.0h0" stroke="#24302b" stroke-opacity="0.41" stroke-width="1.7" stroke-linecap="round" fill="none"/>
<path d="M122.4 148.1h0M104.2 144.5h0M86.5 141.0h0M169.4 148.2h0M150.6 144.6h0M132.2 141.1h0M114.4 137.7h0M97.1 134.4h0M216.5 148.4h0M197.0 144.7h0M177.9 141.2h0M159.5 137.8h0M141.5 134.5h0M124.1 131.3h0M263.7 148.5h0M243.4 144.9h0M223.7 141.4h0M204.6 137.9h0M186.0 134.6h0M167.9 131.4h0M310.9 148.6h0M289.9 145.0h0M269.5 141.5h0M249.7 138.1h0M230.5 134.7h0M211.8 131.5h0M315.4 141.6h0M294.9 138.2h0M275.1 134.9h0M255.7 131.6h0M319.7 135.0h0M299.7 131.7h0" stroke="#cbdad3" stroke-opacity="0.85" stroke-width="2.1" stroke-linecap="round" fill="none"/>
<path d="M124.5 147.9h0M106.3 144.3h0M88.6 140.8h0M171.5 148.1h0M152.7 144.5h0M134.3 141.0h0M116.5 137.6h0M99.2 134.2h0M218.6 148.2h0M199.1 144.6h0M180.0 141.1h0M161.6 137.7h0M143.6 134.4h0M126.2 131.1h0M265.8 148.3h0M245.5 144.7h0M225.8 141.2h0M206.7 137.8h0M188.1 134.5h0M170.0 131.2h0M313.0 148.5h0M292.0 144.8h0M271.6 141.3h0M251.8 137.9h0M232.6 134.6h0M213.9 131.4h0M317.5 141.5h0M297.0 138.0h0M277.2 134.7h0M257.8 131.5h0M321.8 134.8h0M301.8 131.6h0" stroke="#24302b" stroke-opacity="0.55" stroke-width="1.7" stroke-linecap="round" fill="none"/>
<path d="M51.0 163.2h0M45.8 151.5h0" stroke="#cbdad3" stroke-opacity="0.42" stroke-width="2.36" stroke-linecap="round" fill="none"/>
<path d="M53.4 163.1h0M48.1 151.4h0" stroke="#24302b" stroke-opacity="0.28" stroke-width="1.91" stroke-linecap="round" fill="none"/>
<path d="M63.6 155.4h0" stroke="#cbdad3" stroke-opacity="0.64" stroke-width="2.36" stroke-linecap="round" fill="none"/>
<path d="M65.9 155.2h0" stroke="#24302b" stroke-opacity="0.41" stroke-width="1.91" stroke-linecap="round" fill="none"/>
<path d="M100.9 163.4h0M82.0 159.3h0M150.8 163.5h0M131.1 159.4h0M112.0 155.5h0M93.4 151.7h0M200.8 163.7h0M180.3 159.6h0M160.4 155.6h0M141.1 151.8h0M250.9 163.8h0M229.6 159.7h0M208.9 155.8h0M188.9 151.9h0M300.9 164.0h0M278.9 159.9h0M257.4 155.9h0M236.7 152.1h0M306.0 156.1h0M284.5 152.2h0" stroke="#cbdad3" stroke-opacity="0.85" stroke-width="2.36" stroke-linecap="round" fill="none"/>
<path d="M103.2 163.2h0M84.3 159.2h0M153.2 163.4h0M133.4 159.3h0M114.3 155.4h0M95.7 151.5h0M203.1 163.5h0M182.6 159.4h0M162.7 155.5h0M143.4 151.7h0M253.2 163.7h0M231.9 159.6h0M211.2 155.6h0M191.2 151.8h0M303.3 163.8h0M281.2 159.7h0M259.8 155.8h0M239.0 151.9h0M308.4 155.9h0M286.9 152.1h0" stroke="#24302b" stroke-opacity="0.55" stroke-width="1.91" stroke-linecap="round" fill="none"/>
<rect x="45" y="1.6" width="278" height="3.0" fill="#bfc7c3"/>
<path d="M45,7 Q56,3.5 70,2.6" stroke="#707c77" stroke-width="0.9" fill="none"/>
<path d="M45,7 Q56,3.5 70,2.6 L45,2.6Z" fill="#c9d0cd"/>
<rect x="255" y="1.6" width="18" height="1.5" fill="#6a7470" filter="url(#blur05)"/>
<rect x="296" y="1.6" width="4" height="1.6" fill="#76807c" filter="url(#blur05)"/>
<g filter="url(#blur05)">
<polygon points="243.4,15.6 260.6,16.8 260.6,41.4 243.4,41.9" fill="#4d5954"/>
<polygon points="243.4,41.9 260.6,41.4 266,43 247,44" fill="#3f4d47" opacity="0.6"/>
</g>
<defs><filter id="soft" x="-10%" y="-10%" width="120%" height="120%"><feGaussianBlur stdDeviation="0.7"/></filter><filter id="soft2" x="-30%" y="-30%" width="160%" height="160%"><feGaussianBlur stdDeviation="1.6"/></filter></defs>
<g filter="url(#soft2)">
<polygon points="45,117 100,128 150,139 150,146 100,136 45,127" fill="#3a4446" opacity="0.45"/>
</g>
<g filter="url(#soft)">
<polygon points="72,110.5 90,108.5 93.5,120.5 75,122.8" fill="#9bb2a7"/>
<polygon points="84.5,101.5 97,100 97.5,118.5 86,119.5" fill="#93ab9f"/>
<circle cx="94.3" cy="106.5" r="1.3" fill="#3a4744"/>
<polygon points="98.8,94.5 115.6,96.7 114,110.5 95,109" fill="#92a99e"/>
<polygon points="103.3,74.6 130.9,76.1 115.6,96.7 98.8,94.5" fill="#b0c6bb"/>
<polygon points="130.9,76.1 146.9,80.7 146.9,106.7 114,110.5 115.6,96.7" fill="#92aa9e"/>
<polygon points="115.6,96.7 146.6,88.3 146.6,99 115.6,105.2" fill="#b6c9bf"/>
<line x1="115.6" y1="96.5" x2="146.6" y2="88.1" stroke="#3f524b" stroke-width="0.9"/>
<polygon points="125.5,95.3 145,90 145,92.6 125.5,97.9" fill="#34463f" opacity="0.8"/>
<circle cx="119.8" cy="100.6" r="3" fill="#c8d4ce"/>
<circle cx="119.8" cy="100.6" r="2.3" fill="#b83e5a"/>
<polygon points="97,109 114,110.5 146.9,106.7 146.9,112.5 122,116 100,114.5" fill="#364240"/>
<line x1="102.55" y1="77.92" x2="128.35" y2="79.53" stroke="#d0e0d8" stroke-width="0.6" opacity="0.6"/>
<line x1="101.8" y1="81.23" x2="125.8" y2="82.97" stroke="#d0e0d8" stroke-width="0.6" opacity="0.6"/>
<line x1="101.05" y1="84.55" x2="123.25" y2="86.4" stroke="#d0e0d8" stroke-width="0.6" opacity="0.6"/>
<line x1="100.3" y1="87.87" x2="120.7" y2="89.83" stroke="#d0e0d8" stroke-width="0.6" opacity="0.6"/>
<line x1="99.55" y1="91.18" x2="118.15" y2="93.27" stroke="#d0e0d8" stroke-width="0.6" opacity="0.6"/>
<polygon points="163.4,106.4 181.6,107.8 180.9,121.8 160.6,119" fill="#92a99e"/>
<polygon points="169,82.6 197,86.1 181.6,107.8 163.4,106.4" fill="#b2c8bd"/>
<polygon points="197,86.1 211.7,88.2 211.7,118.3 180.9,121.8 181.6,107.8" fill="#92aa9e"/>
<polygon points="181.6,107.8 211.7,98 211.7,109.2 181.6,119" fill="#b8cac1"/>
<line x1="181.6" y1="107.6" x2="211.7" y2="97.8" stroke="#3f524b" stroke-width="0.9"/>
<polygon points="183,115.5 199,110.3 199,113 183,118.2" fill="#34463f" opacity="0.8"/>
<polygon points="184,111.5 196,107.6 196,108.8 184,112.7" fill="#34463f" opacity="0.45"/>
<circle cx="206.1" cy="104.3" r="3.6" fill="#e4e8e6"/>
<circle cx="206.1" cy="104.3" r="2.7" fill="#c93a50"/>
<polygon points="160.6,119 180.9,121.8 211.7,118.3 211.7,124 186,127.5 164,125" fill="#323d3a"/>
<line x1="168.07" y1="86.57" x2="194.43" y2="89.72" stroke="#d0e0d8" stroke-width="0.6" opacity="0.6"/>
<line x1="167.13" y1="90.53" x2="191.87" y2="93.33" stroke="#d0e0d8" stroke-width="0.6" opacity="0.6"/>
<line x1="166.2" y1="94.5" x2="189.3" y2="96.95" stroke="#d0e0d8" stroke-width="0.6" opacity="0.6"/>
<line x1="165.27" y1="98.47" x2="186.73" y2="100.57" stroke="#d0e0d8" stroke-width="0.6" opacity="0.6"/>
<line x1="164.33" y1="102.43" x2="184.17" y2="104.18" stroke="#d0e0d8" stroke-width="0.6" opacity="0.6"/>
<polygon points="136,124 150,121 168,122 168,135 140,137.5" fill="#9db2a8"/>
<polygon points="158,112 170,111 171,130 159,131" fill="#90a89c"/>
<circle cx="166" cy="117" r="1.2" fill="#3a4744"/>
<polygon points="101.5,131.5 121,118.5 126.5,121.5 107,135.5" fill="#c0d2c8" stroke="#7d9088" stroke-width="0.8"/>
<polygon points="174.8,147.5 191.5,130 196.5,132.5 180,151" fill="#bccfc4"/>
<ellipse cx="78.3" cy="106.8" rx="4.2" ry="3.8" fill="#ad9350"/>
<ellipse cx="146.4" cy="121.8" rx="4" ry="4" fill="#b89b47"/>
<ellipse cx="77.5" cy="105.5" rx="1.8" ry="1.5" fill="#d8c078" opacity="0.7"/>
<ellipse cx="145.8" cy="120.5" rx="1.8" ry="1.5" fill="#dcc47a" opacity="0.7"/>
</g>
<g filter="url(#soft)" fill="none" stroke-linecap="round">
<path d="M47,98 Q51,86 59,84.7 Q68,83 74,90 Q78,96 78,103" stroke="#50709a" stroke-width="2.4"/>
<path d="M116,100 Q122,99 131,99.5 Q141,100 144.6,105.2 Q146.5,110 146.3,118" stroke="#4f6f9a" stroke-width="2.1"/>
<path d="M116,100 Q110,108 107,116 Q104.5,124 103.5,130" stroke="#50709a" stroke-width="2"/>
<path d="M45,118.5 Q66,122.5 85.5,127.4 Q110,132.5 134,137.5 Q143,140 150,143 Q165,147.5 178.5,152.8 Q192,159 200,167" stroke="#3b464c" stroke-width="1.8"/>
<path d="M138,138.5 Q165,146 190,154 Q205,159 214,165" stroke="#3d4a5a" stroke-width="1.3" opacity="0.8"/>
<path d="M51,122.5 Q57,125.5 62,129.3 Q67,132.5 71,135" stroke="#4363c0" stroke-width="3.6" opacity="0.9"/>
<path d="M63,136 Q70,139 77,143.5" stroke="#c25282" stroke-width="3.4" opacity="0.9"/>
<path d="M85.5,147 L86,167" stroke="#5a6ea8" stroke-width="6" opacity="0.7"/>
<path d="M45,144.5 Q70,144 95,145.5 Q118,148.3 130,151.5 Q143,156 147,160 Q150,163 151,166" stroke="#cc3f6c" stroke-width="3.4"/>
<path d="M45,154 Q58,151 70,148.8 Q76,147 81,146" stroke="#cc3f6c" stroke-width="3.4"/>
</g>
<defs><linearGradient id="haze" x1="0" y1="0" x2="1" y2="0"><stop offset="0" stop-color="#b4c0bc" stop-opacity="0.5"/><stop offset="1" stop-color="#b4c0bc" stop-opacity="0"/></linearGradient></defs>
<rect x="45" y="0" width="50" height="166" fill="url(#haze)"/>
<ellipse cx="247.6" cy="142.8" rx="7" ry="3" fill="#93a9b3" opacity="0.7" filter="url(#soft)"/>
</g>
<text x="98.6" y="50.1" font-size="12.8" text-anchor="middle" font-weight="bold" fill="#f2f02a" >Transmit</text>
<text x="98.3" y="65.3" font-size="12.8" text-anchor="middle" font-weight="bold" fill="#f2f02a" >Antenna</text>
<text x="221" y="22.9" font-size="12.7" text-anchor="middle" font-weight="bold" fill="#f2f02a" >Target</text>
<text x="279.4" y="57.8" font-size="12.7" text-anchor="middle" font-weight="bold" fill="#f2f02a" >6cm x 4cm</text>
<text x="245.3" y="114.9" font-size="12.7" text-anchor="middle" font-weight="bold" fill="#f2f02a" >Receive</text>
<text x="245.2" y="129.8" font-size="12.7" text-anchor="middle" font-weight="bold" fill="#f2f02a" >Antenna</text>
<text x="54.8" y="21.7" font-size="15.3" text-anchor="start" font-weight="bold" fill="#111" >(a)</text>
<line x1="432.3" y1="3.7" x2="432.3" y2="149" stroke="#c4c4c4" stroke-width="0.9" stroke-dasharray="5 3.5"/>
<line x1="461.3" y1="3.7" x2="461.3" y2="149" stroke="#c4c4c4" stroke-width="0.9" stroke-dasharray="5 3.5"/>
<line x1="490.3" y1="3.7" x2="490.3" y2="149" stroke="#c4c4c4" stroke-width="0.9" stroke-dasharray="5 3.5"/>
<line x1="519.3" y1="3.7" x2="519.3" y2="149" stroke="#c4c4c4" stroke-width="0.9" stroke-dasharray="5 3.5"/>
<line x1="548.3" y1="3.7" x2="548.3" y2="149" stroke="#c4c4c4" stroke-width="0.9" stroke-dasharray="5 3.5"/>
<line x1="577.3" y1="3.7" x2="577.3" y2="149" stroke="#c4c4c4" stroke-width="0.9" stroke-dasharray="5 3.5"/>
<line x1="606.3" y1="3.7" x2="606.3" y2="149" stroke="#c4c4c4" stroke-width="0.9" stroke-dasharray="5 3.5"/>
<line x1="635.3" y1="3.7" x2="635.3" y2="149" stroke="#c4c4c4" stroke-width="0.9" stroke-dasharray="5 3.5"/>
<line x1="414.6" y1="12.2" x2="652.5" y2="12.2" stroke="#c4c4c4" stroke-width="0.9" stroke-dasharray="5 3.5"/>
<line x1="414.6" y1="30.5" x2="652.5" y2="30.5" stroke="#c4c4c4" stroke-width="0.9" stroke-dasharray="5 3.5"/>
<line x1="414.6" y1="48.8" x2="652.5" y2="48.8" stroke="#c4c4c4" stroke-width="0.9" stroke-dasharray="5 3.5"/>
<line x1="414.6" y1="67.1" x2="652.5" y2="67.1" stroke="#c4c4c4" stroke-width="0.9" stroke-dasharray="5 3.5"/>
<line x1="414.6" y1="85.4" x2="652.5" y2="85.4" stroke="#c4c4c4" stroke-width="0.9" stroke-dasharray="5 3.5"/>
<line x1="414.6" y1="103.7" x2="652.5" y2="103.7" stroke="#c4c4c4" stroke-width="0.9" stroke-dasharray="5 3.5"/>
<line x1="414.6" y1="122" x2="652.5" y2="122" stroke="#c4c4c4" stroke-width="0.9" stroke-dasharray="5 3.5"/>
<line x1="414.6" y1="140.3" x2="652.5" y2="140.3" stroke="#c4c4c4" stroke-width="0.9" stroke-dasharray="5 3.5"/>
<polyline points="415.2,125.04 415.62,131.17 416.04,127.47 416.46,132.43 416.88,127.22 417.3,133.85 417.72,149 418.14,149 418.56,130.09 418.98,133.99 419.4,128.42 419.82,134.29 420.24,127.55 420.66,134.08 421.08,130.46 421.5,136 421.92,129.33 422.34,134.2 422.76,128.6 423.18,131.02 423.6,129.47 424.02,149 424.44,128.07 424.86,132.36 425.28,129.25 425.7,133.79 426.12,129.61 426.54,130.85 426.96,135 427.38,132.19 427.8,126.35 428.22,131.52 428.64,124.46 429.06,132.38 429.48,125.29 429.9,128.17 430.32,125.39 430.74,128.88 431.16,124.38 431.58,129.42 432,127.32 432.42,140.8 432.84,123.73 433.26,128.19 433.68,124.27 434.1,128.61 434.52,149 434.94,130.42 435.36,149 435.78,129.55 436.2,126.04 436.62,149 437.04,126.71 437.46,149 437.88,124.68 438.3,131.3 438.72,124.89 439.14,130.3 439.56,125.27 439.98,134 440.4,126.37 440.82,130.23 441.24,127.06 441.66,127.56 442.08,127.37 442.5,129.19 442.92,125.42 443.34,128.84 443.76,125.39 444.18,149 444.6,124.8 445.02,130.33 445.44,124 445.86,129.16 446.28,124.06 446.7,128.31 447.12,149 447.54,129.52 447.96,124.68 448.38,128.83 448.8,125.27 449.22,126.73 449.64,123.61 450.06,130.21 450.48,135 450.9,129.34 451.32,124.18 451.74,126.36 452.16,123.72 452.58,127.02 453,122.91 453.42,127.32 453.84,122.97 454.26,129.59 454.68,123.77 455.1,127.07 455.52,124.09 455.94,127.28 456.36,121.69 456.78,124.73 457.2,133 457.62,125.97 458.04,123.86 458.46,128.85 458.88,123.48 459.3,126.1 459.72,120.98 460.14,126.98 460.56,123.43 460.98,126.78 461.4,123.36 461.82,128.35 462.24,122.47 462.66,129.1 463.08,124 463.5,142 463.92,124.15 464.34,130.48 464.76,123.44 465.18,129.03 465.6,125.21 466.02,128.93 466.44,123.82 466.86,127.91 467.28,149 467.7,129.52 468.12,125.58 468.54,149 468.96,126.68 469.38,149 469.8,126.38 470.22,131.57 470.64,149 471.06,131.45 471.48,127.61 471.9,132.54 472.32,126.75 472.74,132.05 473.16,127.51 473.58,130.53 474,127.79 474.42,130.16 474.84,136.3 475.26,132 475.68,128.69 476.1,130.41 476.52,126.63 476.94,132.45 477.36,127.63 477.78,131.35 478.2,125.53 478.62,128.03 479.04,125.55 479.46,127.85 479.88,125.89 480.3,129.8 480.72,125.51 481.14,131.17 481.56,126.69 481.98,132 482.4,125.91 482.82,128.64 483.24,126.74 483.66,127.59 484.08,125.87 484.5,127.4 484.92,124.43 485.34,129.13 485.76,124 486.18,128.07 486.6,123.41 487.02,132 487.44,124 487.86,129.62 488.28,124.53 488.7,128.6 489.12,124 489.54,127.83 489.96,124.78 490.38,128.38 490.8,122.2 491.22,127.17 491.64,122.21 492.06,129.3 492.48,123.12 492.9,128.11 493.32,122.53 493.74,124.81 494.16,122.45 494.58,125.92 495,149 495.6,123 497.5,120 499.8,117.4 501.8,110 503.7,105.1 505.5,107.5 507.5,113 509.5,116 512,113.5 515,109.5 518.2,99 521.5,89.5 526.2,79.4 530.7,65.1 533.8,60.7 537,55 539.9,48.9 542.9,40.7 544.5,32 545.5,26 546.6,21.4 549,19.6 551,19.1 554.1,17.9 557.2,19.3 559,21.5 561.2,24.4 563,27 564.9,30.5 566.5,36 567.6,44 568.6,49 570.7,56 573.5,63.5 576.8,69.7 579.8,75.8 582.9,81.9 585.5,86.5 587.5,88.6 590.5,92.6 592,96.5 593.6,101.8 595,106.5 596.4,110.2 598.3,113 600.2,115.3 600.6,115.29 601.02,116.85 601.44,116.6 601.86,118.42 602.28,117.33 602.7,119.32 603.12,118.73 603.54,119.39 603.96,118.42 604.38,121.47 604.8,119.61 605.22,120.45 605.64,119.43 606.06,123.36 606.48,120.3 606.9,122.37 607.32,120.63 607.74,123.48 608.16,120.72 608.58,124.84 609,120.67 609.42,124.9 609.84,121.93 610.26,126.29 610.68,122.1 611.1,126.44 611.52,123.32 611.94,126.74 612.36,124.19 612.78,129.04 613.2,124.18 613.62,129.7 614.04,130 614.46,130.36 614.88,124.1 615.3,128.9 615.72,126.07 616.14,128.57 616.56,125.84 616.98,130.13 617.4,124.64 617.82,129.15 618.24,125.55 618.66,129.88 619.08,133 619.5,128.2 619.92,125.12 620.34,130.17 620.76,125.48 621.18,128.82 621.6,124.97 622.02,128.84 622.44,125.57 622.86,129.05 623.28,126.21 623.7,140.7 624.12,124.24 624.54,127.77 624.96,126.58 625.38,128.19 625.8,132 626.22,131.12 626.64,124.88 627.06,128.65 627.48,125.82 627.9,128.5 628.32,137.5 628.74,131.63 629.16,126.19 629.58,130.23 630,127.1 630.42,129.61 630.84,134 631.26,130.83 631.68,125.51 632.1,130.23 632.52,125.72 632.94,129.53 633.36,124.97 633.78,130.1 634.2,127.08 634.62,149 635.04,149 635.46,128.82 635.88,124.37 636.3,131.53 636.72,126.51 637.14,129.33 637.56,135 637.98,131.61 638.4,126.02 638.82,132.1 639.24,126.5 639.66,130.63 640.08,124.2 640.5,128.54 640.92,140.7 641.34,130.75 641.76,126.31 642.18,129.83 642.6,126.33 643.02,133 643.44,126.21 643.86,130.21 644.28,125.66 644.7,128.57 645.12,125.83 645.54,129.38 645.96,142 646.38,129.22 646.8,124.45 647.22,129.84 647.64,124.32 648.06,130.11 648.48,125.57 648.9,133 649.32,126.62 649.74,128.77 650.16,125.5 650.58,130.31 651,124.62 651.42,130.31 651.84,126.85" fill="none" stroke="#1717d8" stroke-width="1.6" stroke-linejoin="round"/>
<rect x="414.6" y="3.7" width="237.89999999999998" height="145.3" fill="none" stroke="#111" stroke-width="1.8"/>
<line x1="410.1" y1="12.2" x2="414.6" y2="12.2" stroke="#111" stroke-width="1.3"/>
<line x1="412.1" y1="30.5" x2="416.1" y2="30.5" stroke="#111" stroke-width="1.1"/>
<line x1="410.1" y1="48.8" x2="414.6" y2="48.8" stroke="#111" stroke-width="1.3"/>
<line x1="412.1" y1="67.1" x2="416.1" y2="67.1" stroke="#111" stroke-width="1.1"/>
<line x1="410.1" y1="85.4" x2="414.6" y2="85.4" stroke="#111" stroke-width="1.3"/>
<line x1="412.1" y1="103.7" x2="416.1" y2="103.7" stroke="#111" stroke-width="1.1"/>
<line x1="410.1" y1="122" x2="414.6" y2="122" stroke="#111" stroke-width="1.3"/>
<line x1="412.1" y1="140.3" x2="416.1" y2="140.3" stroke="#111" stroke-width="1.1"/>
<line x1="432.3" y1="149" x2="432.3" y2="151.8" stroke="#111" stroke-width="1.3"/>
<line x1="461.3" y1="147.5" x2="461.3" y2="151" stroke="#111" stroke-width="1.1"/>
<line x1="490.3" y1="149" x2="490.3" y2="151.8" stroke="#111" stroke-width="1.3"/>
<line x1="519.3" y1="147.5" x2="519.3" y2="151" stroke="#111" stroke-width="1.1"/>
<line x1="548.3" y1="149" x2="548.3" y2="151.8" stroke="#111" stroke-width="1.3"/>
<line x1="577.3" y1="147.5" x2="577.3" y2="151" stroke="#111" stroke-width="1.1"/>
<line x1="606.3" y1="149" x2="606.3" y2="151.8" stroke="#111" stroke-width="1.3"/>
<line x1="635.3" y1="147.5" x2="635.3" y2="151" stroke="#111" stroke-width="1.1"/>
<line x1="649" y1="18.2" x2="652.5" y2="18.2" stroke="#111" stroke-width="1.2"/>
<line x1="649" y1="32.83" x2="652.5" y2="32.83" stroke="#111" stroke-width="1.2"/>
<line x1="649" y1="47.46" x2="652.5" y2="47.46" stroke="#111" stroke-width="1.2"/>
<line x1="649" y1="62.09" x2="652.5" y2="62.09" stroke="#111" stroke-width="1.2"/>
<line x1="649" y1="76.72" x2="652.5" y2="76.72" stroke="#111" stroke-width="1.2"/>
<line x1="649" y1="91.35" x2="652.5" y2="91.35" stroke="#111" stroke-width="1.2"/>
<line x1="649" y1="105.98" x2="652.5" y2="105.98" stroke="#111" stroke-width="1.2"/>
<line x1="649" y1="120.61" x2="652.5" y2="120.61" stroke="#111" stroke-width="1.2"/>
<line x1="649" y1="135.24" x2="652.5" y2="135.24" stroke="#111" stroke-width="1.2"/>
<text x="409.1" y="17.3" font-size="14.5" text-anchor="end" font-weight="normal" fill="#161616" stroke="#161616" stroke-width="0.2" >-20</text>
<text x="409.1" y="53.9" font-size="14.5" text-anchor="end" font-weight="normal" fill="#161616" stroke="#161616" stroke-width="0.2" >-40</text>
<text x="409.1" y="90.5" font-size="14.5" text-anchor="end" font-weight="normal" fill="#161616" stroke="#161616" stroke-width="0.2" >-60</text>
<text x="409.1" y="127.1" font-size="14.5" text-anchor="end" font-weight="normal" fill="#161616" stroke="#161616" stroke-width="0.2" >-80</text>
<text x="432.3" y="164.7" font-size="14.8" text-anchor="middle" font-weight="normal" fill="#161616" stroke="#161616" stroke-width="0.2" >1550.2</text>
<text x="490.3" y="164.7" font-size="14.8" text-anchor="middle" font-weight="normal" fill="#161616" stroke="#161616" stroke-width="0.2" >1550.4</text>
<text x="548.3" y="164.7" font-size="14.8" text-anchor="middle" font-weight="normal" fill="#161616" stroke="#161616" stroke-width="0.2" >1550.6</text>
<text x="606.3" y="164.7" font-size="14.8" text-anchor="middle" font-weight="normal" fill="#161616" stroke="#161616" stroke-width="0.2" >1550.8</text>
<text x="533.6" y="180.6" font-size="16.4" text-anchor="middle" font-weight="normal" fill="#161616" stroke="#161616" stroke-width="0.2" >Wavelength (nm)</text>
<text transform="translate(386.2,71.3) rotate(-90)" font-size="16.4" text-anchor="middle" fill="#161616" stroke="#161616" stroke-width="0.2">Power (dBm)</text>
<text x="418.9" y="17.8" font-size="15.8" text-anchor="start" font-weight="bold" fill="#111" >(b)</text>
<clipPath id="clipc"><rect x="50.5" y="198.0" width="280.0" height="156.0"/></clipPath>
<line x1="85.5" y1="198" x2="85.5" y2="354" stroke="#c4c4c4" stroke-width="0.9" stroke-dasharray="4 3.5"/>
<line x1="120.5" y1="198" x2="120.5" y2="354" stroke="#c4c4c4" stroke-width="0.9" stroke-dasharray="4 3.5"/>
<line x1="155.5" y1="198" x2="155.5" y2="354" stroke="#c4c4c4" stroke-width="0.9" stroke-dasharray="4 3.5"/>
<line x1="190.5" y1="198" x2="190.5" y2="354" stroke="#c4c4c4" stroke-width="0.9" stroke-dasharray="4 3.5"/>
<line x1="225.5" y1="198" x2="225.5" y2="354" stroke="#c4c4c4" stroke-width="0.9" stroke-dasharray="4 3.5"/>
<line x1="260.5" y1="198" x2="260.5" y2="354" stroke="#c4c4c4" stroke-width="0.9" stroke-dasharray="4 3.5"/>
<line x1="295.5" y1="198" x2="295.5" y2="354" stroke="#c4c4c4" stroke-width="0.9" stroke-dasharray="4 3.5"/>
<line x1="50.5" y1="342.48" x2="330.5" y2="342.48" stroke="#c4c4c4" stroke-width="0.9" stroke-dasharray="4 3.5"/>
<line x1="50.5" y1="331.29" x2="330.5" y2="331.29" stroke="#c4c4c4" stroke-width="0.9" stroke-dasharray="4 3.5"/>
<line x1="50.5" y1="320.09" x2="330.5" y2="320.09" stroke="#c4c4c4" stroke-width="0.9" stroke-dasharray="4 3.5"/>
<line x1="50.5" y1="308.9" x2="330.5" y2="308.9" stroke="#c4c4c4" stroke-width="0.9" stroke-dasharray="4 3.5"/>
<line x1="50.5" y1="297.7" x2="330.5" y2="297.7" stroke="#c4c4c4" stroke-width="0.9" stroke-dasharray="4 3.5"/>
<line x1="50.5" y1="286.51" x2="330.5" y2="286.51" stroke="#c4c4c4" stroke-width="0.9" stroke-dasharray="4 3.5"/>
<line x1="50.5" y1="275.31" x2="330.5" y2="275.31" stroke="#c4c4c4" stroke-width="0.9" stroke-dasharray="4 3.5"/>
<line x1="50.5" y1="264.12" x2="330.5" y2="264.12" stroke="#c4c4c4" stroke-width="0.9" stroke-dasharray="4 3.5"/>
<line x1="50.5" y1="252.92" x2="330.5" y2="252.92" stroke="#c4c4c4" stroke-width="0.9" stroke-dasharray="4 3.5"/>
<line x1="50.5" y1="241.73" x2="330.5" y2="241.73" stroke="#c4c4c4" stroke-width="0.9" stroke-dasharray="4 3.5"/>
<line x1="50.5" y1="230.53" x2="330.5" y2="230.53" stroke="#c4c4c4" stroke-width="0.9" stroke-dasharray="4 3.5"/>
<line x1="50.5" y1="219.34" x2="330.5" y2="219.34" stroke="#c4c4c4" stroke-width="0.9" stroke-dasharray="4 3.5"/>
<line x1="50.5" y1="208.14" x2="330.5" y2="208.14" stroke="#c4c4c4" stroke-width="0.9" stroke-dasharray="4 3.5"/>
<g clip-path="url(#clipc)" fill="#1414f0" stroke="#1414f0" stroke-width="0.4">
<rect x="50.5" y="305.09" width="280.0" height="7.61" stroke="none"/>
<polygon points="47.65,306.66 47.65,270.94 49.45,271.07 49.45,289.51 50.55,288.46 51.85,290.01 52.55,292.1 53.55,295.12 54.55,298.01 55.75,300.66 57.05,302.85 58.55,303.51 60.05,304.96 61.65,305.51 61.65,312.87 60.05,313.73 58.55,314.45 57.05,317.58 55.75,320.06 54.55,322.18 53.55,324.14 52.55,325.59 51.55,327.42 50.35,330.03 49.45,330.47 49.45,343.06 47.65,343.18 47.65,311.14"/>
<polygon points="61.6,306.66 61.6,270.44 63.4,270.96 63.4,288.93 64.5,288.91 65.8,290.02 66.5,292.17 67.5,295.5 68.5,298.19 69.7,300.45 71,302.23 72.5,304.6 74,305.79 75.6,306.41 75.6,312.75 74,313.28 72.5,314.68 71,316.75 69.7,318.98 68.5,322.32 67.5,323.88 66.5,326.42 65.5,327.86 64.3,330.55 63.4,331.42 63.4,342.6 61.6,343.1 61.6,311.14"/>
<polygon points="75.55,306.66 75.55,271.49 77.35,270.96 77.35,289.58 78.45,288.38 79.75,289.49 80.45,292.16 81.45,295.83 82.45,297.72 83.65,300 84.95,302.3 86.45,304.56 87.95,305.51 89.55,305.54 89.55,312.2 87.95,313.02 86.45,314.47 84.95,317.36 83.65,319.11 82.45,322.07 81.45,323.94 80.45,325.63 79.45,328.28 78.25,329.56 77.35,331.17 77.35,342.88 75.55,343.61 75.55,311.14"/>
<polygon points="89.5,306.66 89.5,270.66 91.3,270.72 91.3,289.57 92.4,288.86 93.7,289.76 94.4,292.46 95.4,295.15 96.4,297.87 97.6,300.93 98.9,302.67 100.4,303.52 101.9,305.79 103.5,305.66 103.5,312.21 101.9,313.83 100.4,314.79 98.9,316.76 97.6,318.99 96.4,321.51 95.4,324.1 94.4,325.69 93.4,328.12 92.2,329.85 91.3,330.94 91.3,344.9 89.5,343.76 89.5,311.14"/>
<polygon points="103.45,306.66 103.45,271.09 105.25,271.44 105.25,288.62 106.35,288.08 107.65,290.49 108.35,292.38 109.35,295.2 110.35,297.63 111.55,300.79 112.85,303.03 114.35,303.64 115.85,305.74 117.45,306.46 117.45,312.62 115.85,313.41 114.35,314.52 112.85,316.45 111.55,320.06 110.35,321.69 109.35,324.25 108.35,325.71 107.35,328.39 106.15,330.12 105.25,330.75 105.25,343.02 103.45,344.33 103.45,311.14"/>
<polygon points="117.4,306.66 117.4,270.48 119.2,270.67 119.2,289.07 120.3,288.92 121.6,290.14 122.3,291.74 123.3,296 124.3,297.64 125.5,299.92 126.8,302.22 128.3,303.93 129.8,304.67 131.4,305.61 131.4,312.34 129.8,313.59 128.3,314.56 126.8,316.83 125.5,319.97 124.3,322.58 123.3,324.19 122.3,326.23 121.3,328.1 120.1,329.57 119.2,330.44 119.2,342.64 117.4,344.78 117.4,311.14"/>
<polygon points="131.35,306.66 131.35,271.24 133.15,271.56 133.15,288.43 134.25,288.66 135.55,289.98 136.25,292.28 137.25,295.28 138.25,298.6 139.45,299.99 140.75,302.56 142.25,304.28 143.75,305.68 145.35,306.28 145.35,312.74 143.75,313.85 142.25,315.5 140.75,316.82 139.45,319.72 138.25,322.48 137.25,324.45 136.25,325.9 135.25,328.35 134.05,330.44 133.15,331.09 133.15,344.1 131.35,343.52 131.35,311.14"/>
<polygon points="145.3,306.66 145.3,271.1 147.1,271.13 147.1,288.5 148.2,288.67 149.5,290.59 150.2,292.46 151.2,295.77 152.2,297.87 153.4,300.78 154.7,302.6 156.2,303.93 157.7,305.61 159.3,305.5 159.3,312.8 157.7,312.94 156.2,315.12 154.7,316.98 153.4,319.18 152.2,322.24 151.2,324 150.2,326.14 149.2,328.5 148,329.71 147.1,330.41 147.1,343.32 145.3,344.23 145.3,311.14"/>
<polygon points="159.25,306.66 159.25,270.64 161.05,270.6 161.05,289.49 162.15,288.69 163.45,289.93 164.15,292.47 165.15,295.29 166.15,298.2 167.35,300.14 168.65,302.42 170.15,304.37 171.65,305.7 173.25,306.46 173.25,312.36 171.65,313.6 170.15,314.78 168.65,316.56 167.35,319.5 166.15,322.4 165.15,324.42 164.15,326.25 163.15,328.54 161.95,329.73 161.05,330.6 161.05,343.68 159.25,343.26 159.25,311.14"/>
<polygon points="173.2,306.66 173.2,270.66 175,270.9 175,289.15 176.1,288.49 177.4,289.78 178.1,292.41 179.1,296.08 180.1,297.94 181.3,299.99 182.6,301.94 184.1,304.45 185.6,304.65 187.2,306.25 187.2,312.58 185.6,313.27 184.1,315.35 182.6,316.42 181.3,319.06 180.1,321.95 179.1,323.43 178.1,326.4 177.1,327.68 175.9,329.57 175,330.46 175,344.11 173.2,343.67 173.2,311.14"/>
<polygon points="187.15,306.66 187.15,271.16 188.95,271.19 188.95,289.37 190.05,289.05 191.35,290.22 192.05,291.64 193.05,295.47 194.05,297.61 195.25,299.91 196.55,302.47 198.05,304.26 199.55,304.81 201.15,305.73 201.15,312.31 199.55,313.74 198.05,315.02 196.55,317.14 195.25,319.81 194.05,321.87 193.05,324.35 192.05,326.49 191.05,327.5 189.85,330.52 188.95,331.27 188.95,342.91 187.15,343.69 187.15,311.14"/>
<polygon points="201.1,306.66 201.1,271.15 202.9,271.49 202.9,288.85 204,288.58 205.3,290.46 206,292.36 207,296.03 208,297.96 209.2,300.68 210.5,302.15 212,304.27 213.5,305.58 215.1,306.17 215.1,312.76 213.5,313.16 212,315.48 210.5,317.58 209.2,320.07 208,322.04 207,324.35 206,325.78 205,328.49 203.8,330.43 202.9,330.82 202.9,342.8 201.1,343.66 201.1,311.14"/>
<polygon points="215.05,306.66 215.05,271.06 216.85,271.32 216.85,288.98 217.95,287.93 219.25,290.37 219.95,291.48 220.95,295.86 221.95,297.61 223.15,300.3 224.45,302.85 225.95,303.57 227.45,304.78 229.05,306.02 229.05,312.77 227.45,313.91 225.95,315.23 224.45,317.53 223.15,319.49 221.95,322.54 220.95,323.5 219.95,325.67 218.95,328.03 217.75,329.75 216.85,331.27 216.85,344.13 215.05,343.85 215.05,311.14"/>
<polygon points="229,306.66 229,271.41 230.8,271.07 230.8,288.77 231.9,288.36 233.2,290.41 233.9,292.48 234.9,295.15 235.9,298.42 237.1,301.06 238.4,302.53 239.9,304.09 241.4,304.84 243,306.04 243,312.5 241.4,313.63 239.9,314.43 238.4,317.56 237.1,319.52 235.9,321.88 234.9,324.36 233.9,326.08 232.9,327.99 231.7,330.23 230.8,330.48 230.8,343.89 229,343.59 229,311.14"/>
<polygon points="242.95,306.66 242.95,271.55 244.75,271.51 244.75,288.72 245.85,288.47 247.15,289.55 247.85,291.92 248.85,295.88 249.85,298.48 251.05,300.47 252.35,302.28 253.85,303.63 255.35,305.34 256.95,306.51 256.95,312.06 255.35,313.84 253.85,314.43 252.35,316.63 251.05,319.17 249.85,322.22 248.85,323.79 247.85,325.83 246.85,328.14 245.65,329.53 244.75,331.28 244.75,342.89 242.95,343.83 242.95,311.14"/>
<polygon points="256.9,306.66 256.9,270.7 258.7,270.64 258.7,289.04 259.8,288.42 261.1,289.85 261.8,291.9 262.8,295.54 263.8,297.59 265,300.15 266.3,302.66 267.8,304.17 269.3,305.24 270.9,306.42 270.9,312.63 269.3,313.93 267.8,314.68 266.3,317.29 265,319.87 263.8,322.48 262.8,323.78 261.8,325.78 260.8,328.51 259.6,329.66 258.7,331.6 258.7,344.73 256.9,342.92 256.9,311.14"/>
<polygon points="270.85,306.66 270.85,270.69 272.65,271.27 272.65,288.71 273.75,288.02 275.05,290.4 275.75,291.91 276.75,295.85 277.75,297.55 278.95,300.38 280.25,302.72 281.75,303.42 283.25,304.84 284.85,306.22 284.85,312.99 283.25,314.06 281.75,314.54 280.25,317.01 278.95,319.81 277.75,322 276.75,324.22 275.75,325.63 274.75,327.48 273.55,329.53 272.65,330.44 272.65,343.92 270.85,343.84 270.85,311.14"/>
<polygon points="284.8,306.66 284.8,271.08 286.6,270.58 286.6,288.62 287.7,288.14 289,290.41 289.7,292.59 290.7,296.01 291.7,297.51 292.9,299.97 294.2,303.04 295.7,303.95 297.2,305.52 298.8,305.79 298.8,312.46 297.2,313.52 295.7,314.92 294.2,317.12 292.9,318.92 291.7,322.24 290.7,324.41 289.7,325.62 288.7,327.94 287.5,330.29 286.6,330.89 286.6,343.07 284.8,343 284.8,311.14"/>
<polygon points="298.75,306.66 298.75,271.02 300.55,270.42 300.55,289.47 301.65,288.86 302.95,290.25 303.65,292.43 304.65,295.66 305.65,297.89 306.85,300.62 308.15,302.51 309.65,304.58 311.15,305.57 312.75,305.71 312.75,312.99 311.15,313.79 309.65,315.33 308.15,317.38 306.85,319.39 305.65,322.48 304.65,324.46 303.65,326.23 302.65,328.32 301.45,330.32 300.55,330.89 300.55,344.33 298.75,342.77 298.75,311.14"/>
<polygon points="312.7,306.66 312.7,270.81 314.5,270.96 314.5,288.41 315.6,288.33 316.9,290.17 317.6,292.15 318.6,295.18 319.6,298.53 320.8,300.7 322.1,302.31 323.6,304.19 325.1,305.28 326.7,306.04 326.7,312.37 325.1,314.1 323.6,315.17 322.1,317.24 320.8,319.81 319.6,322.58 318.6,323.43 317.6,326.14 316.6,328.29 315.4,329.71 314.5,330.88 314.5,342.72 312.7,343.07 312.7,311.14"/>
<polygon points="326.65,306.66 326.65,270.85 328.45,270.52 328.45,288.7 329.55,288.99 330.85,290.06 331.55,292.01 332.55,296.06 333.55,298.08 334.75,301.09 336.05,302.67 337.55,304.37 339.05,304.69 340.65,306.12 340.65,312.81 339.05,312.95 337.55,315.52 336.05,316.59 334.75,319.47 333.55,321.6 332.55,323.99 331.55,326.13 330.55,327.47 329.35,330.53 328.45,330.9 328.45,343.86 326.65,344.03 326.65,311.14"/>
</g>
<rect x="50.5" y="198.0" width="280.0" height="156.0" fill="none" stroke="#111" stroke-width="1.8"/>
<line x1="46.7" y1="353.68" x2="50.5" y2="353.68" stroke="#111" stroke-width="1.3"/>
<line x1="48.7" y1="342.48" x2="52.3" y2="342.48" stroke="#111" stroke-width="1.1"/>
<line x1="46.7" y1="331.29" x2="50.5" y2="331.29" stroke="#111" stroke-width="1.3"/>
<line x1="48.7" y1="320.09" x2="52.3" y2="320.09" stroke="#111" stroke-width="1.1"/>
<line x1="46.7" y1="308.9" x2="50.5" y2="308.9" stroke="#111" stroke-width="1.3"/>
<line x1="48.7" y1="297.7" x2="52.3" y2="297.7" stroke="#111" stroke-width="1.1"/>
<line x1="46.7" y1="286.51" x2="50.5" y2="286.51" stroke="#111" stroke-width="1.3"/>
<line x1="48.7" y1="275.31" x2="52.3" y2="275.31" stroke="#111" stroke-width="1.1"/>
<line x1="46.7" y1="264.12" x2="50.5" y2="264.12" stroke="#111" stroke-width="1.3"/>
<line x1="48.7" y1="252.92" x2="52.3" y2="252.92" stroke="#111" stroke-width="1.1"/>
<line x1="46.7" y1="241.73" x2="50.5" y2="241.73" stroke="#111" stroke-width="1.3"/>
<line x1="48.7" y1="230.53" x2="52.3" y2="230.53" stroke="#111" stroke-width="1.1"/>
<line x1="46.7" y1="219.34" x2="50.5" y2="219.34" stroke="#111" stroke-width="1.3"/>
<line x1="48.7" y1="208.14" x2="52.3" y2="208.14" stroke="#111" stroke-width="1.1"/>
<line x1="46.7" y1="196.95" x2="50.5" y2="196.95" stroke="#111" stroke-width="1.3"/>
<line x1="50.5" y1="354" x2="50.5" y2="357" stroke="#111" stroke-width="1.3"/>
<line x1="85.5" y1="352.8" x2="85.5" y2="356.2" stroke="#111" stroke-width="1.1"/>
<line x1="120.5" y1="354" x2="120.5" y2="357" stroke="#111" stroke-width="1.3"/>
<line x1="155.5" y1="352.8" x2="155.5" y2="356.2" stroke="#111" stroke-width="1.1"/>
<line x1="190.5" y1="354" x2="190.5" y2="357" stroke="#111" stroke-width="1.3"/>
<line x1="225.5" y1="352.8" x2="225.5" y2="356.2" stroke="#111" stroke-width="1.1"/>
<line x1="260.5" y1="354" x2="260.5" y2="357" stroke="#111" stroke-width="1.3"/>
<line x1="295.5" y1="352.8" x2="295.5" y2="356.2" stroke="#111" stroke-width="1.1"/>
<line x1="330.5" y1="354" x2="330.5" y2="357" stroke="#111" stroke-width="1.3"/>
<text x="45.1" y="201.55" font-size="13" text-anchor="end" font-weight="normal" fill="#1c1c1c" stroke="#1c1c1c" stroke-width="0.2" >500</text>
<text x="45.1" y="223.94" font-size="13" text-anchor="end" font-weight="normal" fill="#1c1c1c" stroke="#1c1c1c" stroke-width="0.2" >400</text>
<text x="45.1" y="246.33" font-size="13" text-anchor="end" font-weight="normal" fill="#1c1c1c" stroke="#1c1c1c" stroke-width="0.2" >300</text>
<text x="45.1" y="268.72" font-size="13" text-anchor="end" font-weight="normal" fill="#1c1c1c" stroke="#1c1c1c" stroke-width="0.2" >200</text>
<text x="45.1" y="291.11" font-size="13" text-anchor="end" font-weight="normal" fill="#1c1c1c" stroke="#1c1c1c" stroke-width="0.2" >100</text>
<text x="45.1" y="313.5" font-size="13" text-anchor="end" font-weight="normal" fill="#1c1c1c" stroke="#1c1c1c" stroke-width="0.2" >0</text>
<text x="45.1" y="335.89" font-size="13" text-anchor="end" font-weight="normal" fill="#1c1c1c" stroke="#1c1c1c" stroke-width="0.2" >-100</text>
<text x="45.1" y="358.28" font-size="13" text-anchor="end" font-weight="normal" fill="#1c1c1c" stroke="#1c1c1c" stroke-width="0.2" >-200</text>
<text x="50.5" y="368.4" font-size="13" text-anchor="middle" font-weight="normal" fill="#1c1c1c" stroke="#1c1c1c" stroke-width="0.2" >0</text>
<text x="120.5" y="368.4" font-size="13" text-anchor="middle" font-weight="normal" fill="#1c1c1c" stroke="#1c1c1c" stroke-width="0.2" >50</text>
<text x="190.5" y="368.4" font-size="13" text-anchor="middle" font-weight="normal" fill="#1c1c1c" stroke="#1c1c1c" stroke-width="0.2" >100</text>
<text x="260.5" y="368.4" font-size="13" text-anchor="middle" font-weight="normal" fill="#1c1c1c" stroke="#1c1c1c" stroke-width="0.2" >150</text>
<text x="330.5" y="368.4" font-size="13" text-anchor="middle" font-weight="normal" fill="#1c1c1c" stroke="#1c1c1c" stroke-width="0.2" >200</text>
<text x="190.9" y="384.9" font-size="17" text-anchor="middle" font-weight="normal" fill="#161616" stroke="#161616" stroke-width="0.2" >Time (us)</text>
<text transform="translate(15.4,269.3) rotate(-90)" font-size="17.5" text-anchor="middle" fill="#161616" stroke="#161616" stroke-width="0.2">Amplitude (mV)</text>
<text x="53.4" y="215.2" font-size="16.2" text-anchor="start" font-weight="bold" fill="#111" >(c)</text>
<rect x="140.4" y="198.0" width="190.1" height="67.69999999999999" fill="#fff"/>
<line x1="152.28" y1="198" x2="152.28" y2="265.7" stroke="#c4c4c4" stroke-width="0.8" stroke-dasharray="3 3"/>
<line x1="164.15" y1="198" x2="164.15" y2="265.7" stroke="#c4c4c4" stroke-width="0.8" stroke-dasharray="3 3"/>
<line x1="176.03" y1="198" x2="176.03" y2="265.7" stroke="#c4c4c4" stroke-width="0.8" stroke-dasharray="3 3"/>
<line x1="187.9" y1="198" x2="187.9" y2="265.7" stroke="#c4c4c4" stroke-width="0.8" stroke-dasharray="3 3"/>
<line x1="199.78" y1="198" x2="199.78" y2="265.7" stroke="#c4c4c4" stroke-width="0.8" stroke-dasharray="3 3"/>
<line x1="211.65" y1="198" x2="211.65" y2="265.7" stroke="#c4c4c4" stroke-width="0.8" stroke-dasharray="3 3"/>
<line x1="223.53" y1="198" x2="223.53" y2="265.7" stroke="#c4c4c4" stroke-width="0.8" stroke-dasharray="3 3"/>
<line x1="235.4" y1="198" x2="235.4" y2="265.7" stroke="#c4c4c4" stroke-width="0.8" stroke-dasharray="3 3"/>
<line x1="247.28" y1="198" x2="247.28" y2="265.7" stroke="#c4c4c4" stroke-width="0.8" stroke-dasharray="3 3"/>
<line x1="259.15" y1="198" x2="259.15" y2="265.7" stroke="#c4c4c4" stroke-width="0.8" stroke-dasharray="3 3"/>
<line x1="271.02" y1="198" x2="271.02" y2="265.7" stroke="#c4c4c4" stroke-width="0.8" stroke-dasharray="3 3"/>
<line x1="282.9" y1="198" x2="282.9" y2="265.7" stroke="#c4c4c4" stroke-width="0.8" stroke-dasharray="3 3"/>
<line x1="294.77" y1="198" x2="294.77" y2="265.7" stroke="#c4c4c4" stroke-width="0.8" stroke-dasharray="3 3"/>
<line x1="306.65" y1="198" x2="306.65" y2="265.7" stroke="#c4c4c4" stroke-width="0.8" stroke-dasharray="3 3"/>
<line x1="318.52" y1="198" x2="318.52" y2="265.7" stroke="#c4c4c4" stroke-width="0.8" stroke-dasharray="3 3"/>
<line x1="140.4" y1="206.57" x2="330.5" y2="206.57" stroke="#c4c4c4" stroke-width="0.8" stroke-dasharray="3 3"/>
<line x1="140.4" y1="215.05" x2="330.5" y2="215.05" stroke="#c4c4c4" stroke-width="0.8" stroke-dasharray="3 3"/>
<line x1="140.4" y1="223.53" x2="330.5" y2="223.53" stroke="#c4c4c4" stroke-width="0.8" stroke-dasharray="3 3"/>
<line x1="140.4" y1="232" x2="330.5" y2="232" stroke="#c4c4c4" stroke-width="0.8" stroke-dasharray="3 3"/>
<line x1="140.4" y1="240.47" x2="330.5" y2="240.47" stroke="#c4c4c4" stroke-width="0.8" stroke-dasharray="3 3"/>
<line x1="140.4" y1="248.95" x2="330.5" y2="248.95" stroke="#c4c4c4" stroke-width="0.8" stroke-dasharray="3 3"/>
<line x1="140.4" y1="257.43" x2="330.5" y2="257.43" stroke="#c4c4c4" stroke-width="0.8" stroke-dasharray="3 3"/>
<polyline points="140.6,227.92 141.68,236.31 142.76,201.91 143.84,244.92 144.92,202.83 146,249.93 147.08,210.11 148.16,249.98 149.24,203.17 150.32,254.15 151.4,210.61 152.48,252.03 153.56,214.23 154.64,251.97 155.72,214.19 156.8,251.65 157.88,221.09 158.96,246.36 160.04,224.04 161.12,247.04 162.2,223.43 163.28,242.33 164.36,219.64 165.44,241.03 166.52,219.42 167.6,240.3 168.68,222.17 169.76,243.93 170.84,222.15 171.92,241.54 173,219.59 174.08,244.03 175.16,222.57 176.24,243.4 177.32,222.29 178.4,241.41 179.48,223.68 180.56,241.96 181.64,222.34 182.72,241.74 183.8,221.97 184.88,238.92 185.96,224.55 187.04,237.99 188.12,226.04 189.2,237.19 190.28,226.1 191.36,237.7 192.44,227.11 193.52,237.15 194.6,227.15 195.68,236.35 196.76,225.26 197.84,237.65 198.92,224.95 200,238.64 201.08,222.4 202.16,238.22 203.24,219.75 204.32,238.81 205.4,218.99 206.48,242.01 207.56,221.5 208.64,241.86 209.72,223.21 210.8,241.05 211.88,225.21 212.96,238.94 214.04,225.3 215.12,240.86 216.2,225.68 217.28,239.89 218.36,224.18 219.44,239.89 220.52,225.75 221.6,238.25 222.68,224.95 223.76,239.06 224.84,225.58 225.92,239.11 227,222.59 228.08,239.95 229.16,223.47 230.24,240.77 231.32,222.44 232.4,239.31 233.48,219.95 234.56,241.05 235.64,222.15 236.72,240.57 237.8,222.48 238.88,238.32 239.96,223.48 241.04,237.62 242.12,225.07 243.2,237.31 244.28,224.62 245.36,238.94 246.44,226.23 247.52,236.64 248.6,224.62 249.68,237.42 250.76,225.96 251.84,236.57 252.92,225.73 254,237.47 255.08,226.13 256.16,236.44 257.24,226.99 258.32,237.07 259.4,227.14 260.48,236.11 261.56,225.95 262.64,235.43 263.72,226.37 264.8,236.68 265.88,226.76 266.96,236.32 268.04,227.79 269.12,235.7 270.2,227.93 271.28,236.21 272.36,227.92 273.44,235.57 274.52,227.17 275.6,236.02 276.68,227.45 277.76,235.41 278.84,228.31 279.92,235.67 281,228.49 282.08,235.05 283.16,228.69 284.24,234.8 285.32,228.83 286.4,235.67 287.48,228.29 288.56,235.17 289.64,228.91 290.72,234.77 291.8,229.45 292.88,234.62 293.96,228.86 295.04,235.12 296.12,229.38 297.2,234.94 298.28,229.11 299.36,234.75 300.44,229.32 301.52,234.75 302.6,229.68 303.68,234.65 304.76,229.85 305.84,234.42 306.92,229.54 308,234.55 309.08,230.02 310.16,234.7 311.24,229.83 312.32,234.37 313.4,230.41 314.48,234.3 315.56,230.32 316.64,234.35 317.72,230.26 318.8,234.4 319.88,230.23 320.96,234.32 322.04,230.47 323.12,234.12 324.2,230.25 325.28,234.13 326.36,230.52 327.44,234.03 328.52,230.25 329.6,233.84" fill="none" stroke="#1515ee" stroke-width="1.05" stroke-linejoin="round"/>
<rect x="140.4" y="198.0" width="190.1" height="67.69999999999999" fill="none" stroke="#111" stroke-width="1.8"/>
<line x1="137.4" y1="198.1" x2="140.4" y2="198.1" stroke="#111" stroke-width="1.2"/>
<line x1="138.9" y1="206.57" x2="141.9" y2="206.57" stroke="#111" stroke-width="1.0"/>
<line x1="137.4" y1="215.05" x2="140.4" y2="215.05" stroke="#111" stroke-width="1.2"/>
<line x1="138.9" y1="223.53" x2="141.9" y2="223.53" stroke="#111" stroke-width="1.0"/>
<line x1="137.4" y1="232" x2="140.4" y2="232" stroke="#111" stroke-width="1.2"/>
<line x1="138.9" y1="240.47" x2="141.9" y2="240.47" stroke="#111" stroke-width="1.0"/>
<line x1="137.4" y1="248.95" x2="140.4" y2="248.95" stroke="#111" stroke-width="1.2"/>
<line x1="138.9" y1="257.43" x2="141.9" y2="257.43" stroke="#111" stroke-width="1.0"/>
<line x1="137.4" y1="265.9" x2="140.4" y2="265.9" stroke="#111" stroke-width="1.2"/>
<line x1="164.15" y1="264.2" x2="164.15" y2="267.2" stroke="#111" stroke-width="1.1"/>
<line x1="187.9" y1="264.2" x2="187.9" y2="267.2" stroke="#111" stroke-width="1.1"/>
<line x1="211.65" y1="264.2" x2="211.65" y2="267.2" stroke="#111" stroke-width="1.1"/>
<line x1="235.4" y1="264.2" x2="235.4" y2="267.2" stroke="#111" stroke-width="1.1"/>
<line x1="259.15" y1="264.2" x2="259.15" y2="267.2" stroke="#111" stroke-width="1.1"/>
<line x1="282.9" y1="264.2" x2="282.9" y2="267.2" stroke="#111" stroke-width="1.1"/>
<line x1="306.65" y1="264.2" x2="306.65" y2="267.2" stroke="#111" stroke-width="1.1"/>
<text x="136.6" y="201.2" font-size="8.7" text-anchor="end" font-weight="normal" fill="#1c1c1c" stroke="#1c1c1c" stroke-width="0.2" >200</text>
<text x="136.6" y="218.15" font-size="8.7" text-anchor="end" font-weight="normal" fill="#1c1c1c" stroke="#1c1c1c" stroke-width="0.2" >100</text>
<text x="136.6" y="235.1" font-size="8.7" text-anchor="end" font-weight="normal" fill="#1c1c1c" stroke="#1c1c1c" stroke-width="0.2" >0</text>
<text x="136.6" y="252.05" font-size="8.7" text-anchor="end" font-weight="normal" fill="#1c1c1c" stroke="#1c1c1c" stroke-width="0.2" >-100</text>
<text x="136.6" y="269" font-size="8.7" text-anchor="end" font-weight="normal" fill="#1c1c1c" stroke="#1c1c1c" stroke-width="0.2" >-200</text>
<text x="215" y="260" font-size="12.3" text-anchor="middle" font-weight="normal" fill="#161616" stroke="#161616" stroke-width="0.2" >10us</text>
<g stroke="#d8343c" stroke-width="1" fill="none">
<polyline points="141.5,266.6 228.4,270.6"/>
<polyline points="329.5,266.6 243.3,270.6"/>
<rect x="228.4" y="270.6" width="14.9" height="75"/>
</g>
<polygon points="141,266.6 146.5,264.8 146.5,268.6" fill="#d8343c"/>
<polygon points="330,266.6 324.5,264.8 324.5,268.6" fill="#d8343c"/>
<line x1="410.5" y1="207.6" x2="410.5" y2="356.3" stroke="#c4c4c4" stroke-width="0.9" stroke-dasharray="4 3"/>
<line x1="434.1" y1="207.6" x2="434.1" y2="356.3" stroke="#c4c4c4" stroke-width="0.9" stroke-dasharray="4 3"/>
<line x1="457.7" y1="207.6" x2="457.7" y2="356.3" stroke="#c4c4c4" stroke-width="0.9" stroke-dasharray="4 3"/>
<line x1="481.3" y1="207.6" x2="481.3" y2="356.3" stroke="#c4c4c4" stroke-width="0.9" stroke-dasharray="4 3"/>
<line x1="504.9" y1="207.6" x2="504.9" y2="356.3" stroke="#c4c4c4" stroke-width="0.9" stroke-dasharray="4 3"/>
<line x1="528.5" y1="207.6" x2="528.5" y2="356.3" stroke="#c4c4c4" stroke-width="0.9" stroke-dasharray="4 3"/>
<line x1="552.1" y1="207.6" x2="552.1" y2="356.3" stroke="#c4c4c4" stroke-width="0.9" stroke-dasharray="4 3"/>
<line x1="575.7" y1="207.6" x2="575.7" y2="356.3" stroke="#c4c4c4" stroke-width="0.9" stroke-dasharray="4 3"/>
<line x1="599.3" y1="207.6" x2="599.3" y2="356.3" stroke="#c4c4c4" stroke-width="0.9" stroke-dasharray="4 3"/>
<line x1="622.9" y1="207.6" x2="622.9" y2="356.3" stroke="#c4c4c4" stroke-width="0.9" stroke-dasharray="4 3"/>
<line x1="646.5" y1="207.6" x2="646.5" y2="356.3" stroke="#c4c4c4" stroke-width="0.9" stroke-dasharray="4 3"/>
<line x1="386.9" y1="342.76" x2="670" y2="342.76" stroke="#c4c4c4" stroke-width="0.9" stroke-dasharray="4 3"/>
<line x1="386.9" y1="329.22" x2="670" y2="329.22" stroke="#c4c4c4" stroke-width="0.9" stroke-dasharray="4 3"/>
<line x1="386.9" y1="315.68" x2="670" y2="315.68" stroke="#c4c4c4" stroke-width="0.9" stroke-dasharray="4 3"/>
<line x1="386.9" y1="302.14" x2="670" y2="302.14" stroke="#c4c4c4" stroke-width="0.9" stroke-dasharray="4 3"/>
<line x1="386.9" y1="288.6" x2="670" y2="288.6" stroke="#c4c4c4" stroke-width="0.9" stroke-dasharray="4 3"/>
<line x1="386.9" y1="275.06" x2="670" y2="275.06" stroke="#c4c4c4" stroke-width="0.9" stroke-dasharray="4 3"/>
<line x1="386.9" y1="261.52" x2="670" y2="261.52" stroke="#c4c4c4" stroke-width="0.9" stroke-dasharray="4 3"/>
<line x1="386.9" y1="247.98" x2="670" y2="247.98" stroke="#c4c4c4" stroke-width="0.9" stroke-dasharray="4 3"/>
<line x1="386.9" y1="234.44" x2="670" y2="234.44" stroke="#c4c4c4" stroke-width="0.9" stroke-dasharray="4 3"/>
<line x1="386.9" y1="220.9" x2="670" y2="220.9" stroke="#c4c4c4" stroke-width="0.9" stroke-dasharray="4 3"/>
<g stroke="#2323d8" stroke-width="1.1">
<line x1="544.2" y1="355.8" x2="544.2" y2="352.9" stroke="#2323d8" stroke-width="1.1"/>
<line x1="546.5" y1="355.8" x2="546.5" y2="351" stroke="#2323d8" stroke-width="1.1"/>
<line x1="550.3" y1="355.8" x2="550.3" y2="354" stroke="#2323d8" stroke-width="1.1"/>
<line x1="552.2" y1="355.8" x2="552.2" y2="352.1" stroke="#2323d8" stroke-width="1.1"/>
<line x1="553.7" y1="355.8" x2="553.7" y2="349.5" stroke="#2323d8" stroke-width="1.1"/>
<line x1="554.9" y1="355.8" x2="554.9" y2="348.3" stroke="#2323d8" stroke-width="1.1"/>
<line x1="556" y1="355.8" x2="556" y2="347.2" stroke="#2323d8" stroke-width="1.1"/>
<line x1="557.2" y1="355.8" x2="557.2" y2="348.3" stroke="#2323d8" stroke-width="1.1"/>
<line x1="558.3" y1="355.8" x2="558.3" y2="349" stroke="#2323d8" stroke-width="1.1"/>
<line x1="559.7" y1="355.8" x2="559.7" y2="323.8" stroke="#2323d8" stroke-width="1.1"/>
<line x1="560.7" y1="355.8" x2="560.7" y2="347.5" stroke="#2323d8" stroke-width="1.1"/>
<line x1="561.8" y1="355.8" x2="561.8" y2="220.9" stroke="#2323d8" stroke-width="1.1"/>
<line x1="563.3" y1="355.8" x2="563.3" y2="325" stroke="#2323d8" stroke-width="1.1"/>
<line x1="564.4" y1="355.8" x2="564.4" y2="347.5" stroke="#2323d8" stroke-width="1.1"/>
<line x1="565.2" y1="355.8" x2="565.2" y2="347.9" stroke="#2323d8" stroke-width="1.1"/>
<line x1="567.1" y1="355.8" x2="567.1" y2="347.9" stroke="#2323d8" stroke-width="1.1"/>
<line x1="569" y1="355.8" x2="569" y2="348.7" stroke="#2323d8" stroke-width="1.1"/>
<line x1="570.5" y1="355.8" x2="570.5" y2="352.1" stroke="#2323d8" stroke-width="1.1"/>
<line x1="571.7" y1="355.8" x2="571.7" y2="352.5" stroke="#2323d8" stroke-width="1.1"/>
<line x1="573.6" y1="355.8" x2="573.6" y2="353" stroke="#2323d8" stroke-width="1.1"/>
<line x1="576.5" y1="355.8" x2="576.5" y2="350.5" stroke="#2323d8" stroke-width="1.1"/>
<line x1="578.2" y1="355.8" x2="578.2" y2="352.1" stroke="#2323d8" stroke-width="1.1"/>
<line x1="582.4" y1="355.8" x2="582.4" y2="354.3" stroke="#2323d8" stroke-width="1.1"/>
<line x1="415.2" y1="355.8" x2="415.2" y2="353.8" stroke="#2323d8" stroke-width="1.1"/>
<line x1="414.2" y1="355.8" x2="414.2" y2="354.5" stroke="#2323d8" stroke-width="1.1"/>
<line x1="549" y1="355.8" x2="549" y2="353" stroke="#2323d8" stroke-width="1.1"/>
<line x1="555.5" y1="355.8" x2="555.5" y2="347.5" stroke="#2323d8" stroke-width="1.1"/>
<line x1="566" y1="355.8" x2="566" y2="348.5" stroke="#2323d8" stroke-width="1.1"/>
<line x1="568" y1="355.8" x2="568" y2="348.2" stroke="#2323d8" stroke-width="1.1"/>
</g>
<line x1="386.9" y1="355.4" x2="670.0" y2="355.4" stroke="#28287a" stroke-width="1.3"/>
<rect x="386.9" y="207.6" width="283.1" height="148.70000000000002" fill="none" stroke="#111" stroke-width="1.8"/>
<line x1="383.7" y1="356.3" x2="386.9" y2="356.3" stroke="#111" stroke-width="1.3"/>
<line x1="384.9" y1="342.76" x2="388.4" y2="342.76" stroke="#111" stroke-width="1.1"/>
<line x1="383.7" y1="329.22" x2="386.9" y2="329.22" stroke="#111" stroke-width="1.3"/>
<line x1="384.9" y1="315.68" x2="388.4" y2="315.68" stroke="#111" stroke-width="1.1"/>
<line x1="383.7" y1="302.14" x2="386.9" y2="302.14" stroke="#111" stroke-width="1.3"/>
<line x1="384.9" y1="288.6" x2="388.4" y2="288.6" stroke="#111" stroke-width="1.1"/>
<line x1="383.7" y1="275.06" x2="386.9" y2="275.06" stroke="#111" stroke-width="1.3"/>
<line x1="384.9" y1="261.52" x2="388.4" y2="261.52" stroke="#111" stroke-width="1.1"/>
<line x1="383.7" y1="247.98" x2="386.9" y2="247.98" stroke="#111" stroke-width="1.3"/>
<line x1="384.9" y1="234.44" x2="388.4" y2="234.44" stroke="#111" stroke-width="1.1"/>
<line x1="383.7" y1="220.9" x2="386.9" y2="220.9" stroke="#111" stroke-width="1.3"/>
<line x1="386.9" y1="356.3" x2="386.9" y2="359.3" stroke="#111" stroke-width="1.3"/>
<line x1="410.5" y1="355.1" x2="410.5" y2="358.5" stroke="#111" stroke-width="1.1"/>
<line x1="434.1" y1="356.3" x2="434.1" y2="359.3" stroke="#111" stroke-width="1.3"/>
<line x1="457.7" y1="355.1" x2="457.7" y2="358.5" stroke="#111" stroke-width="1.1"/>
<line x1="481.3" y1="356.3" x2="481.3" y2="359.3" stroke="#111" stroke-width="1.3"/>
<line x1="504.9" y1="355.1" x2="504.9" y2="358.5" stroke="#111" stroke-width="1.1"/>
<line x1="528.5" y1="356.3" x2="528.5" y2="359.3" stroke="#111" stroke-width="1.3"/>
<line x1="552.1" y1="355.1" x2="552.1" y2="358.5" stroke="#111" stroke-width="1.1"/>
<line x1="575.7" y1="356.3" x2="575.7" y2="359.3" stroke="#111" stroke-width="1.3"/>
<line x1="599.3" y1="355.1" x2="599.3" y2="358.5" stroke="#111" stroke-width="1.1"/>
<line x1="622.9" y1="356.3" x2="622.9" y2="359.3" stroke="#111" stroke-width="1.3"/>
<line x1="646.5" y1="355.1" x2="646.5" y2="358.5" stroke="#111" stroke-width="1.1"/>
<line x1="670.1" y1="356.3" x2="670.1" y2="359.3" stroke="#111" stroke-width="1.3"/>
<text x="382.9" y="360.8" font-size="15" text-anchor="end" font-weight="normal" fill="#161616" stroke="#161616" stroke-width="0.2" >0.0</text>
<text x="382.9" y="333.72" font-size="15" text-anchor="end" font-weight="normal" fill="#161616" stroke="#161616" stroke-width="0.2" >0.2</text>
<text x="382.9" y="306.64" font-size="15" text-anchor="end" font-weight="normal" fill="#161616" stroke="#161616" stroke-width="0.2" >0.4</text>
<text x="382.9" y="279.56" font-size="15" text-anchor="end" font-weight="normal" fill="#161616" stroke="#161616" stroke-width="0.2" >0.6</text>
<text x="382.9" y="252.48" font-size="15" text-anchor="end" font-weight="normal" fill="#161616" stroke="#161616" stroke-width="0.2" >0.8</text>
<text x="382.9" y="225.4" font-size="15" text-anchor="end" font-weight="normal" fill="#161616" stroke="#161616" stroke-width="0.2" >1.0</text>
<text x="386.9" y="372.6" font-size="15" text-anchor="middle" font-weight="normal" fill="#161616" stroke="#161616" stroke-width="0.2" >0.0</text>
<text x="434.1" y="372.6" font-size="15" text-anchor="middle" font-weight="normal" fill="#161616" stroke="#161616" stroke-width="0.2" >2.5</text>
<text x="481.3" y="372.6" font-size="15" text-anchor="middle" font-weight="normal" fill="#161616" stroke="#161616" stroke-width="0.2" >5.0</text>
<text x="528.5" y="372.6" font-size="15" text-anchor="middle" font-weight="normal" fill="#161616" stroke="#161616" stroke-width="0.2" >7.5</text>
<text x="575.7" y="372.6" font-size="15" text-anchor="middle" font-weight="normal" fill="#161616" stroke="#161616" stroke-width="0.2" >10.0</text>
<text x="622.9" y="372.6" font-size="15" text-anchor="middle" font-weight="normal" fill="#161616" stroke="#161616" stroke-width="0.2" >12.5</text>
<text x="670.1" y="372.6" font-size="15" text-anchor="middle" font-weight="normal" fill="#161616" stroke="#161616" stroke-width="0.2" >15.0</text>
<text x="528.5" y="388.7" font-size="15.8" text-anchor="middle" font-weight="normal" fill="#161616" stroke="#161616" stroke-width="0.2" >Frequency (MHz)</text>
<text transform="translate(352.8,291.9) rotate(-90)" font-size="17.3" text-anchor="middle" fill="#161616" stroke="#161616" stroke-width="0.2">Power (a.u)</text>
<text x="391.3" y="224.4" font-size="15.5" text-anchor="start" font-weight="bold" fill="#111" >(d)</text>
</svg>
</body></html>
